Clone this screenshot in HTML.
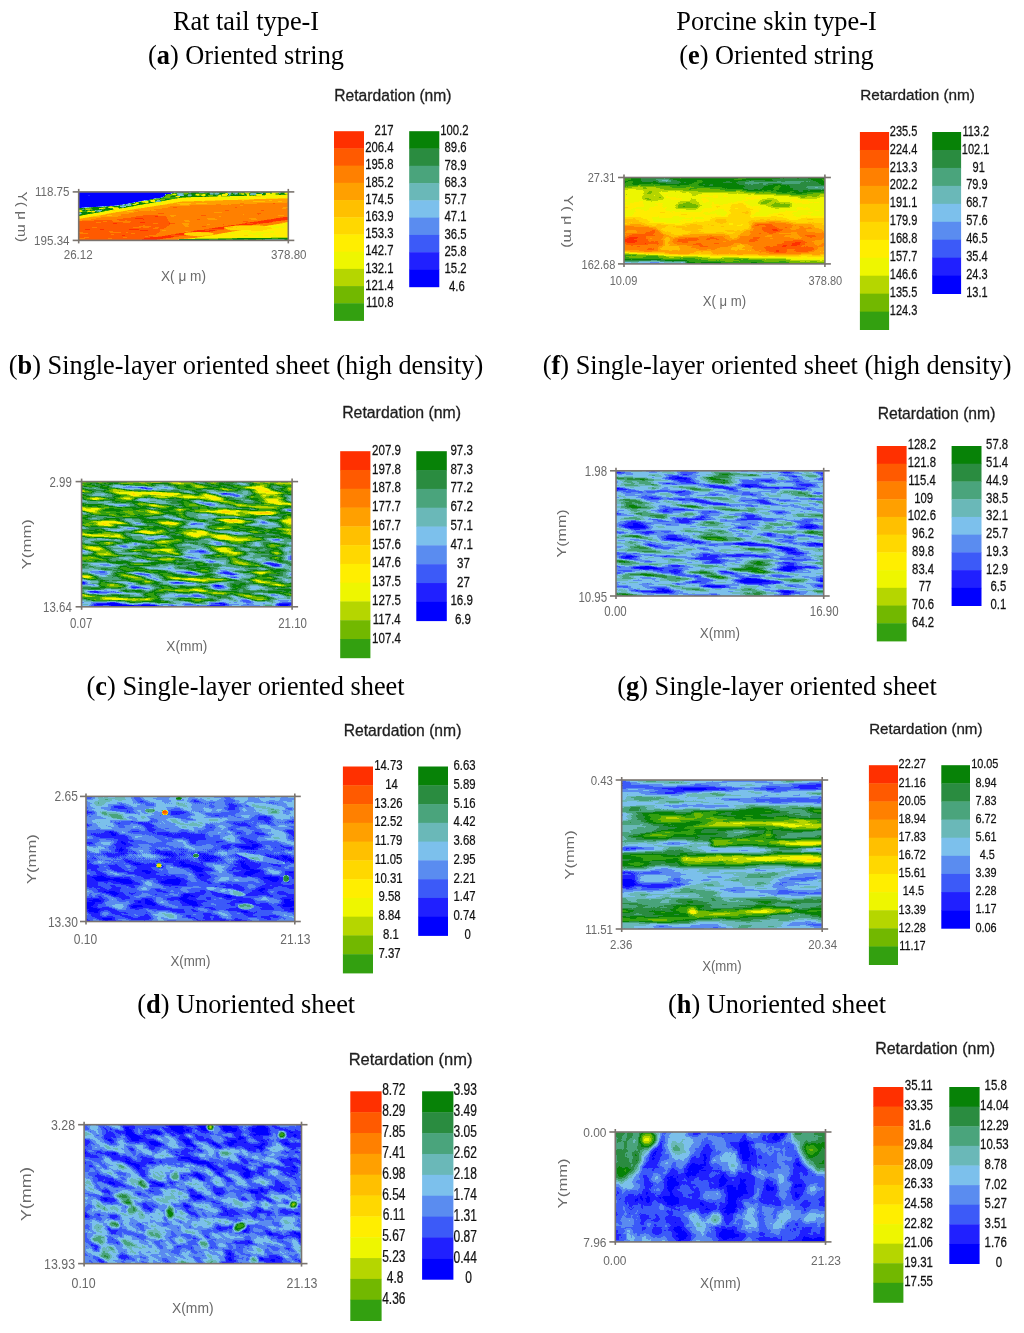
<!DOCTYPE html>
<html><head><meta charset="utf-8"><title>Retardation maps</title>
<style>html,body{margin:0;padding:0;background:#fff} svg{display:block}</style></head>
<body><svg width="1024" height="1333" viewBox="0 0 1024 1333">
<rect width="1024" height="1333" fill="#fff"/>
<svg x="78.7" y="191.9" width="209.60" height="48.50" viewBox="0 0 209.60 48.50" overflow="hidden">
<defs><filter id="bl1" x="-20%" y="-20%" width="140%" height="140%"><feGaussianBlur stdDeviation="0.5"/></filter><filter id="cm1" x="0" y="0" width="209.60" height="48.50" filterUnits="userSpaceOnUse" color-interpolation-filters="sRGB">
<feColorMatrix type="matrix" values="2 0 0 0 -0.5  2 0 0 0 -0.5  2 0 0 0 -0.5  0 0 0 0 1"/>
<feComponentTransfer><feFuncR type="discrete" tableValues="0.000 0.125 0.235 0.353 0.486 0.416 0.290 0.165 0.027 0.200 0.447 0.710 0.933 1.000 1.000 1.000 1.000 1.000 1.000 1.000"/><feFuncG type="discrete" tableValues="0.000 0.125 0.353 0.549 0.753 0.722 0.643 0.549 0.510 0.627 0.722 0.839 0.965 0.933 0.847 0.753 0.627 0.502 0.353 0.188"/><feFuncB type="discrete" tableValues="1.000 1.000 0.973 0.941 0.925 0.722 0.486 0.251 0.027 0.063 0.000 0.000 0.000 0.000 0.000 0.000 0.000 0.000 0.000 0.000"/></feComponentTransfer>
<feGaussianBlur stdDeviation="0.45"/>
</filter>
<filter id="nz1" x="0" y="0" width="1" height="1" color-interpolation-filters="sRGB">
<feTurbulence type="fractalNoise" baseFrequency="0.07 0.35" numOctaves="2" seed="3"/>
<feColorMatrix type="matrix" values="0.125 0 0 0 0.438  0.125 0 0 0 0.438  0.125 0 0 0 0.438  0 0 0 0 1"/>
</filter></defs>
<g filter="url(#cm1)"><g filter="url(#bl1)"><rect x="-10" y="-10" width="229.6" height="68.5" fill="#dfdfdf"/><polygon points="0,29.5 50,21 104,13.5 215,10.3 215,-5 -5,-5 -5,29.5" fill="#d2d2d2"/><polygon points="0,27 50,18 104,9.5 215,6 215,-5 -5,-5 -5,27" fill="#aaaaaa"/><polygon points="0,24 50,15 104,5.5 215,2.8 215,-5 -5,-5 -5,24" fill="#6e6e6e"/><polygon points="-5,-5 100,-5 97,0 82,6 39,13.5 0,16 -5,16" fill="#060606"/><polygon points="-5,29 0,29 39,27.5 67,23 87,24 92,32 75,44 62,55 -5,55" fill="#ececec"/><line x1="48" y1="51" x2="215" y2="25.3" stroke="#f9f9f9" stroke-width="3"/><polygon points="64,55 215,29.4 215,55" fill="#aaaaaa"/><ellipse cx="170" cy="36" rx="25" ry="2.5" fill="#bababa"/><ellipse cx="120" cy="42" rx="15" ry="2" fill="#bababa"/><polygon points="100,47 215,45.5 215,55 100,55" fill="#6e6e6e"/><ellipse cx="195" cy="48.8" rx="14" ry="1.2" fill="#262626"/><ellipse cx="134.0" cy="0.6" rx="2.1" ry="0.8" fill="#868686"/><ellipse cx="21.5" cy="18.5" rx="1.7" ry="1.0" fill="#464646"/><ellipse cx="6.2" cy="17.5" rx="3.0" ry="1.0" fill="#464646"/><ellipse cx="150.1" cy="2.8" rx="2.1" ry="1.1" fill="#464646"/><ellipse cx="169.7" cy="0.5" rx="1.9" ry="1.0" fill="#acacac"/><ellipse cx="58.2" cy="11.2" rx="2.3" ry="0.8" fill="#acacac"/><ellipse cx="20.3" cy="19.1" rx="2.2" ry="0.7" fill="#464646"/><ellipse cx="96.3" cy="1.5" rx="1.7" ry="0.9" fill="#464646"/><ellipse cx="131.8" cy="3.9" rx="2.9" ry="1.1" fill="#868686"/><ellipse cx="9.6" cy="17.2" rx="4.0" ry="1.2" fill="#868686"/><ellipse cx="181.6" cy="1.5" rx="3.1" ry="0.9" fill="#464646"/><ellipse cx="77.6" cy="7.8" rx="3.3" ry="1.1" fill="#868686"/><ellipse cx="15.0" cy="18.9" rx="3.3" ry="0.8" fill="#464646"/><ellipse cx="79.5" cy="9.3" rx="3.2" ry="0.8" fill="#393939"/><ellipse cx="68.0" cy="10.8" rx="2.1" ry="0.7" fill="#9f9f9f"/><ellipse cx="66.1" cy="9.9" rx="3.8" ry="1.0" fill="#9f9f9f"/><ellipse cx="150.5" cy="1.2" rx="2.5" ry="1.2" fill="#464646"/><ellipse cx="96.2" cy="2.3" rx="3.4" ry="1.0" fill="#9f9f9f"/><ellipse cx="156.6" cy="1.9" rx="2.5" ry="0.8" fill="#464646"/><ellipse cx="209.1" cy="1.4" rx="3.4" ry="1.2" fill="#9f9f9f"/><ellipse cx="32.0" cy="15.0" rx="2.6" ry="0.7" fill="#393939"/><ellipse cx="80.0" cy="9.2" rx="2.1" ry="1.0" fill="#464646"/><ellipse cx="197.5" cy="1.9" rx="3.2" ry="1.0" fill="#9f9f9f"/><ellipse cx="55.9" cy="12.6" rx="2.2" ry="0.8" fill="#9f9f9f"/><ellipse cx="0.7" cy="21.5" rx="2.2" ry="1.0" fill="#393939"/><ellipse cx="37.4" cy="16.5" rx="3.1" ry="1.2" fill="#acacac"/><ellipse cx="106.4" cy="1.4" rx="3.4" ry="1.0" fill="#868686"/><ellipse cx="163.2" cy="2.1" rx="3.0" ry="1.0" fill="#9f9f9f"/><ellipse cx="23.4" cy="16.6" rx="3.5" ry="0.8" fill="#acacac"/><ellipse cx="50.5" cy="13.4" rx="1.7" ry="1.0" fill="#9f9f9f"/><ellipse cx="14.5" cy="19.6" rx="1.8" ry="1.1" fill="#acacac"/><ellipse cx="198.5" cy="0.8" rx="3.7" ry="1.0" fill="#464646"/><ellipse cx="44.4" cy="14.4" rx="3.2" ry="1.1" fill="#393939"/><ellipse cx="83.6" cy="7.7" rx="2.6" ry="1.0" fill="#868686"/><ellipse cx="25.4" cy="15.8" rx="1.6" ry="1.0" fill="#868686"/><ellipse cx="123.3" cy="0.5" rx="3.1" ry="0.8" fill="#393939"/><ellipse cx="189.8" cy="2.5" rx="2.8" ry="0.9" fill="#9f9f9f"/><ellipse cx="101.7" cy="3.1" rx="3.8" ry="1.0" fill="#393939"/><ellipse cx="99.1" cy="4.7" rx="2.5" ry="0.8" fill="#acacac"/><ellipse cx="138.1" cy="1.8" rx="2.7" ry="1.1" fill="#464646"/><ellipse cx="141.1" cy="4.0" rx="1.7" ry="1.1" fill="#9f9f9f"/><ellipse cx="167.8" cy="0.8" rx="2.0" ry="1.0" fill="#9f9f9f"/><ellipse cx="88.4" cy="5.0" rx="3.7" ry="0.7" fill="#9f9f9f"/><ellipse cx="169.4" cy="2.9" rx="1.6" ry="1.3" fill="#9f9f9f"/><ellipse cx="175.2" cy="3.1" rx="3.6" ry="0.8" fill="#acacac"/><ellipse cx="101.8" cy="1.5" rx="3.8" ry="0.8" fill="#464646"/><ellipse cx="0.5" cy="19.2" rx="3.5" ry="0.9" fill="#acacac"/><ellipse cx="146.0" cy="3.0" rx="2.9" ry="1.1" fill="#acacac"/><ellipse cx="32.4" cy="15.4" rx="2.9" ry="1.0" fill="#9f9f9f"/><ellipse cx="156.8" cy="0.7" rx="2.7" ry="1.3" fill="#464646"/><ellipse cx="111.3" cy="0.7" rx="1.7" ry="0.8" fill="#464646"/><ellipse cx="124.7" cy="3.2" rx="2.5" ry="1.3" fill="#9f9f9f"/><ellipse cx="119.4" cy="2.9" rx="3.0" ry="1.0" fill="#9f9f9f"/><ellipse cx="122.3" cy="2.6" rx="2.0" ry="1.1" fill="#868686"/><ellipse cx="50.0" cy="13.0" rx="3.1" ry="1.0" fill="#393939"/><ellipse cx="194.7" cy="2.5" rx="2.6" ry="1.3" fill="#9f9f9f"/><ellipse cx="208.8" cy="0.6" rx="2.8" ry="0.8" fill="#9f9f9f"/><ellipse cx="73.2" cy="8.2" rx="2.4" ry="0.8" fill="#9f9f9f"/><ellipse cx="174.8" cy="2.4" rx="4.0" ry="1.2" fill="#464646"/><ellipse cx="110.9" cy="3.4" rx="2.2" ry="1.1" fill="#464646"/><ellipse cx="196.8" cy="0.8" rx="3.7" ry="1.1" fill="#9f9f9f"/><ellipse cx="32.6" cy="15.3" rx="3.3" ry="0.8" fill="#9f9f9f"/><ellipse cx="132.9" cy="1.5" rx="2.1" ry="1.2" fill="#464646"/><ellipse cx="10.6" cy="19.5" rx="2.2" ry="0.7" fill="#acacac"/><ellipse cx="161.6" cy="2.4" rx="1.9" ry="1.0" fill="#868686"/><ellipse cx="147.9" cy="2.4" rx="1.7" ry="1.2" fill="#9f9f9f"/><ellipse cx="189.5" cy="1.8" rx="2.4" ry="1.0" fill="#acacac"/><ellipse cx="90.1" cy="3.4" rx="3.7" ry="1.2" fill="#868686"/><ellipse cx="180.4" cy="2.8" rx="3.2" ry="1.1" fill="#9f9f9f"/><ellipse cx="74.1" cy="9.2" rx="2.5" ry="1.1" fill="#acacac"/></g>
<g opacity="0.5"><rect x="-210" y="-210" width="629" height="468" filter="url(#nz1)" transform="rotate(0 104.8 24.2)"/></g></g>
</svg>
<rect x="78.7" y="191.9" width="209.60" height="48.50" fill="none" stroke="#7a746f" stroke-width="1.6"/>
<line x1="72.70" y1="191.90" x2="78.70" y2="191.90" stroke="#7a746f" stroke-width="1.6"/>
<line x1="72.70" y1="240.40" x2="78.70" y2="240.40" stroke="#7a746f" stroke-width="1.6"/>
<line x1="288.30" y1="191.90" x2="294.30" y2="191.90" stroke="#7a746f" stroke-width="1.6"/>
<line x1="288.30" y1="240.40" x2="294.30" y2="240.40" stroke="#7a746f" stroke-width="1.6"/>
<line x1="78.70" y1="188.90" x2="78.70" y2="191.90" stroke="#7a746f" stroke-width="1.6"/>
<line x1="288.30" y1="188.90" x2="288.30" y2="191.90" stroke="#7a746f" stroke-width="1.6"/>
<line x1="78.70" y1="240.40" x2="78.70" y2="243.40" stroke="#7a746f" stroke-width="1.6"/>
<line x1="288.30" y1="240.40" x2="288.30" y2="243.40" stroke="#7a746f" stroke-width="1.6"/>
<text transform="translate(69.50,196.27) scale(0.95,1)" font-size="12.2" fill="#6a6a6a" text-anchor="end" font-family='"Liberation Sans", Arial, sans-serif'>118.75</text>
<text transform="translate(69.50,245.27) scale(0.95,1)" font-size="12.2" fill="#6a6a6a" text-anchor="end" font-family='"Liberation Sans", Arial, sans-serif'>195.34</text>
<text transform="translate(78.20,259.30) scale(0.95,1)" font-size="12.2" fill="#6a6a6a" text-anchor="middle" font-family='"Liberation Sans", Arial, sans-serif'>26.12</text>
<text transform="translate(288.80,259.30) scale(0.95,1)" font-size="12.2" fill="#6a6a6a" text-anchor="middle" font-family='"Liberation Sans", Arial, sans-serif'>378.80</text>
<text transform="translate(183.50,281.30) scale(0.961,1)" font-size="14.2" fill="#6a6a6a" text-anchor="middle" font-family='"Liberation Sans", Arial, sans-serif'>X( μ m)</text>
<text transform="translate(17.50,216.80) rotate(90) scale(1.134,1)" font-size="13.5" fill="#6a6a6a" text-anchor="middle" font-family='"Liberation Sans", Arial, sans-serif'>Y( μ m)</text>
<text x="334.30" y="101.10" font-size="15.638965517241378" fill="#1e1e1e" text-anchor="start" font-family='"Liberation Sans", Arial, sans-serif' stroke="#1e1e1e" stroke-width="0.3">Retardation (nm)</text>
<rect x="334" y="131.20" width="30.00" height="17.61" fill="#ff3000"/>
<rect x="334" y="148.41" width="30.00" height="17.61" fill="#ff5a00"/>
<rect x="334" y="165.62" width="30.00" height="17.61" fill="#ff8000"/>
<rect x="334" y="182.83" width="30.00" height="17.61" fill="#ffa000"/>
<rect x="334" y="200.04" width="30.00" height="17.61" fill="#ffc000"/>
<rect x="334" y="217.25" width="30.00" height="17.61" fill="#ffd800"/>
<rect x="334" y="234.45" width="30.00" height="17.61" fill="#ffee00"/>
<rect x="334" y="251.66" width="30.00" height="17.61" fill="#eef600"/>
<rect x="334" y="268.87" width="30.00" height="17.61" fill="#b5d600"/>
<rect x="334" y="286.08" width="30.00" height="17.61" fill="#72b800"/>
<rect x="334" y="303.29" width="30.00" height="17.61" fill="#33a010"/>
<text transform="translate(393.50,134.94) scale(0.76,1)" font-size="14.91" fill="#111" text-anchor="end" font-family='"Liberation Sans", Arial, sans-serif' stroke="#111" stroke-width="0.25">217</text>
<text transform="translate(393.50,152.15) scale(0.76,1)" font-size="14.91" fill="#111" text-anchor="end" font-family='"Liberation Sans", Arial, sans-serif' stroke="#111" stroke-width="0.25">206.4</text>
<text transform="translate(393.50,169.36) scale(0.76,1)" font-size="14.91" fill="#111" text-anchor="end" font-family='"Liberation Sans", Arial, sans-serif' stroke="#111" stroke-width="0.25">195.8</text>
<text transform="translate(393.50,186.57) scale(0.76,1)" font-size="14.91" fill="#111" text-anchor="end" font-family='"Liberation Sans", Arial, sans-serif' stroke="#111" stroke-width="0.25">185.2</text>
<text transform="translate(393.50,203.77) scale(0.76,1)" font-size="14.91" fill="#111" text-anchor="end" font-family='"Liberation Sans", Arial, sans-serif' stroke="#111" stroke-width="0.25">174.5</text>
<text transform="translate(393.50,220.98) scale(0.76,1)" font-size="14.91" fill="#111" text-anchor="end" font-family='"Liberation Sans", Arial, sans-serif' stroke="#111" stroke-width="0.25">163.9</text>
<text transform="translate(393.50,238.19) scale(0.76,1)" font-size="14.91" fill="#111" text-anchor="end" font-family='"Liberation Sans", Arial, sans-serif' stroke="#111" stroke-width="0.25">153.3</text>
<text transform="translate(393.50,255.40) scale(0.76,1)" font-size="14.91" fill="#111" text-anchor="end" font-family='"Liberation Sans", Arial, sans-serif' stroke="#111" stroke-width="0.25">142.7</text>
<text transform="translate(393.50,272.61) scale(0.76,1)" font-size="14.91" fill="#111" text-anchor="end" font-family='"Liberation Sans", Arial, sans-serif' stroke="#111" stroke-width="0.25">132.1</text>
<text transform="translate(393.50,289.82) scale(0.76,1)" font-size="14.91" fill="#111" text-anchor="end" font-family='"Liberation Sans", Arial, sans-serif' stroke="#111" stroke-width="0.25">121.4</text>
<text transform="translate(393.50,307.03) scale(0.76,1)" font-size="14.91" fill="#111" text-anchor="end" font-family='"Liberation Sans", Arial, sans-serif' stroke="#111" stroke-width="0.25">110.8</text>
<rect x="409.2" y="131.20" width="30.10" height="17.69" fill="#078207"/>
<rect x="409.2" y="148.49" width="30.10" height="17.69" fill="#2a8c40"/>
<rect x="409.2" y="165.78" width="30.10" height="17.69" fill="#4aa47c"/>
<rect x="409.2" y="183.07" width="30.10" height="17.69" fill="#6ab8b8"/>
<rect x="409.2" y="200.36" width="30.10" height="17.69" fill="#7cc0ec"/>
<rect x="409.2" y="217.64" width="30.10" height="17.69" fill="#5a8cf0"/>
<rect x="409.2" y="234.93" width="30.10" height="17.69" fill="#3c5af8"/>
<rect x="409.2" y="252.22" width="30.10" height="17.69" fill="#2020ff"/>
<rect x="409.2" y="269.51" width="30.10" height="17.69" fill="#0000ff"/>
<text transform="translate(468.50,134.94) scale(0.76,1)" font-size="14.91" fill="#111" text-anchor="end" font-family='"Liberation Sans", Arial, sans-serif' stroke="#111" stroke-width="0.25">100.2</text>
<text transform="translate(466.61,152.23) scale(0.76,1)" font-size="14.91" fill="#111" text-anchor="end" font-family='"Liberation Sans", Arial, sans-serif' stroke="#111" stroke-width="0.25">89.6</text>
<text transform="translate(466.61,169.52) scale(0.76,1)" font-size="14.91" fill="#111" text-anchor="end" font-family='"Liberation Sans", Arial, sans-serif' stroke="#111" stroke-width="0.25">78.9</text>
<text transform="translate(466.61,186.80) scale(0.76,1)" font-size="14.91" fill="#111" text-anchor="end" font-family='"Liberation Sans", Arial, sans-serif' stroke="#111" stroke-width="0.25">68.3</text>
<text transform="translate(466.61,204.09) scale(0.76,1)" font-size="14.91" fill="#111" text-anchor="end" font-family='"Liberation Sans", Arial, sans-serif' stroke="#111" stroke-width="0.25">57.7</text>
<text transform="translate(466.61,221.38) scale(0.76,1)" font-size="14.91" fill="#111" text-anchor="end" font-family='"Liberation Sans", Arial, sans-serif' stroke="#111" stroke-width="0.25">47.1</text>
<text transform="translate(466.61,238.67) scale(0.76,1)" font-size="14.91" fill="#111" text-anchor="end" font-family='"Liberation Sans", Arial, sans-serif' stroke="#111" stroke-width="0.25">36.5</text>
<text transform="translate(466.61,255.96) scale(0.76,1)" font-size="14.91" fill="#111" text-anchor="end" font-family='"Liberation Sans", Arial, sans-serif' stroke="#111" stroke-width="0.25">25.8</text>
<text transform="translate(466.61,273.25) scale(0.76,1)" font-size="14.91" fill="#111" text-anchor="end" font-family='"Liberation Sans", Arial, sans-serif' stroke="#111" stroke-width="0.25">15.2</text>
<text transform="translate(464.72,290.54) scale(0.76,1)" font-size="14.91" fill="#111" text-anchor="end" font-family='"Liberation Sans", Arial, sans-serif' stroke="#111" stroke-width="0.25">4.6</text>
<svg x="81.6" y="481.6" width="210.50" height="125.20" viewBox="0 0 210.50 125.20" overflow="hidden">
<defs><filter id="bl2" x="-20%" y="-20%" width="140%" height="140%"><feGaussianBlur stdDeviation="1"/></filter><filter id="cm2" x="0" y="0" width="210.50" height="125.20" filterUnits="userSpaceOnUse" color-interpolation-filters="sRGB">
<feColorMatrix type="matrix" values="2 0 0 0 -0.5  2 0 0 0 -0.5  2 0 0 0 -0.5  0 0 0 0 1"/>
<feComponentTransfer><feFuncR type="discrete" tableValues="0.000 0.125 0.235 0.353 0.486 0.416 0.290 0.165 0.027 0.200 0.447 0.710 0.933 1.000 1.000 1.000 1.000 1.000 1.000 1.000"/><feFuncG type="discrete" tableValues="0.000 0.125 0.353 0.549 0.753 0.722 0.643 0.549 0.510 0.627 0.722 0.839 0.965 0.933 0.847 0.753 0.627 0.502 0.353 0.188"/><feFuncB type="discrete" tableValues="1.000 1.000 0.973 0.941 0.925 0.722 0.486 0.251 0.027 0.063 0.000 0.000 0.000 0.000 0.000 0.000 0.000 0.000 0.000 0.000"/></feComponentTransfer>
<feGaussianBlur stdDeviation="0.45"/>
</filter>
<filter id="nz2" x="0" y="0" width="1" height="1" color-interpolation-filters="sRGB">
<feTurbulence type="fractalNoise" baseFrequency="0.03 0.16" numOctaves="3" seed="5"/>
<feColorMatrix type="matrix" values="0.958 0 0 0 0.021  0.958 0 0 0 0.021  0.958 0 0 0 0.021  0 0 0 0 1"/>
</filter></defs>
<g filter="url(#cm2)"><g filter="url(#bl2)"><rect x="-10" y="-10" width="230.5" height="145.2" fill="#666666"/><rect x="-5" y="-5" width="220" height="60" fill="#6f6f6f"/><rect x="-5" y="62" width="220" height="70" fill="#5d5d5d"/><polygon points="-5,130 -5,121 140,120 215,116 215,130" fill="#333333"/><rect x="-5" y="97" width="23" height="9" fill="#2b2b2b"/></g>
<g opacity="0.5"><rect x="-211" y="-211" width="632" height="546" filter="url(#nz2)" transform="rotate(4 105.3 62.6)"/></g></g>
</svg>
<rect x="81.6" y="481.6" width="210.50" height="125.20" fill="none" stroke="#7a746f" stroke-width="1.6"/>
<line x1="75.60" y1="481.60" x2="81.60" y2="481.60" stroke="#7a746f" stroke-width="1.6"/>
<line x1="75.60" y1="606.80" x2="81.60" y2="606.80" stroke="#7a746f" stroke-width="1.6"/>
<line x1="292.10" y1="481.60" x2="298.10" y2="481.60" stroke="#7a746f" stroke-width="1.6"/>
<line x1="292.10" y1="606.80" x2="298.10" y2="606.80" stroke="#7a746f" stroke-width="1.6"/>
<line x1="81.60" y1="478.60" x2="81.60" y2="481.60" stroke="#7a746f" stroke-width="1.6"/>
<line x1="292.10" y1="478.60" x2="292.10" y2="481.60" stroke="#7a746f" stroke-width="1.6"/>
<line x1="81.60" y1="606.80" x2="81.60" y2="609.80" stroke="#7a746f" stroke-width="1.6"/>
<line x1="292.10" y1="606.80" x2="292.10" y2="609.80" stroke="#7a746f" stroke-width="1.6"/>
<text transform="translate(71.80,486.61) scale(0.82,1)" font-size="14" fill="#6a6a6a" text-anchor="end" font-family='"Liberation Sans", Arial, sans-serif'>2.99</text>
<text transform="translate(71.80,612.31) scale(0.82,1)" font-size="14" fill="#6a6a6a" text-anchor="end" font-family='"Liberation Sans", Arial, sans-serif'>13.64</text>
<text transform="translate(81.10,627.80) scale(0.82,1)" font-size="14" fill="#6a6a6a" text-anchor="middle" font-family='"Liberation Sans", Arial, sans-serif'>0.07</text>
<text transform="translate(292.60,627.80) scale(0.82,1)" font-size="14" fill="#6a6a6a" text-anchor="middle" font-family='"Liberation Sans", Arial, sans-serif'>21.10</text>
<text transform="translate(186.85,651.00) scale(0.963,1)" font-size="14.2" fill="#6a6a6a" text-anchor="middle" font-family='"Liberation Sans", Arial, sans-serif'>X(mm)</text>
<text transform="translate(30.90,544.20) rotate(-90) scale(1.242,1)" font-size="13.5" fill="#6a6a6a" text-anchor="middle" font-family='"Liberation Sans", Arial, sans-serif'>Y(mm)</text>
<text x="342.20" y="417.50" font-size="15.838103448275863" fill="#1e1e1e" text-anchor="start" font-family='"Liberation Sans", Arial, sans-serif' stroke="#1e1e1e" stroke-width="0.3">Retardation (nm)</text>
<rect x="340.2" y="451.20" width="30.20" height="19.18" fill="#ff3000"/>
<rect x="340.2" y="469.98" width="30.20" height="19.18" fill="#ff5a00"/>
<rect x="340.2" y="488.76" width="30.20" height="19.18" fill="#ff8000"/>
<rect x="340.2" y="507.55" width="30.20" height="19.18" fill="#ffa000"/>
<rect x="340.2" y="526.33" width="30.20" height="19.18" fill="#ffc000"/>
<rect x="340.2" y="545.11" width="30.20" height="19.18" fill="#ffd800"/>
<rect x="340.2" y="563.89" width="30.20" height="19.18" fill="#ffee00"/>
<rect x="340.2" y="582.67" width="30.20" height="19.18" fill="#eef600"/>
<rect x="340.2" y="601.45" width="30.20" height="19.18" fill="#b5d600"/>
<rect x="340.2" y="620.24" width="30.20" height="19.18" fill="#72b800"/>
<rect x="340.2" y="639.02" width="30.20" height="19.18" fill="#33a010"/>
<text transform="translate(401.00,454.79) scale(0.7979999999999999,1)" font-size="14.490000000000002" fill="#111" text-anchor="end" font-family='"Liberation Sans", Arial, sans-serif' stroke="#111" stroke-width="0.25">207.9</text>
<text transform="translate(401.00,473.57) scale(0.7979999999999999,1)" font-size="14.490000000000002" fill="#111" text-anchor="end" font-family='"Liberation Sans", Arial, sans-serif' stroke="#111" stroke-width="0.25">197.8</text>
<text transform="translate(401.00,492.35) scale(0.7979999999999999,1)" font-size="14.490000000000002" fill="#111" text-anchor="end" font-family='"Liberation Sans", Arial, sans-serif' stroke="#111" stroke-width="0.25">187.8</text>
<text transform="translate(401.00,511.13) scale(0.7979999999999999,1)" font-size="14.490000000000002" fill="#111" text-anchor="end" font-family='"Liberation Sans", Arial, sans-serif' stroke="#111" stroke-width="0.25">177.7</text>
<text transform="translate(401.00,529.91) scale(0.7979999999999999,1)" font-size="14.490000000000002" fill="#111" text-anchor="end" font-family='"Liberation Sans", Arial, sans-serif' stroke="#111" stroke-width="0.25">167.7</text>
<text transform="translate(401.00,548.70) scale(0.7979999999999999,1)" font-size="14.490000000000002" fill="#111" text-anchor="end" font-family='"Liberation Sans", Arial, sans-serif' stroke="#111" stroke-width="0.25">157.6</text>
<text transform="translate(401.00,567.48) scale(0.7979999999999999,1)" font-size="14.490000000000002" fill="#111" text-anchor="end" font-family='"Liberation Sans", Arial, sans-serif' stroke="#111" stroke-width="0.25">147.6</text>
<text transform="translate(401.00,586.26) scale(0.7979999999999999,1)" font-size="14.490000000000002" fill="#111" text-anchor="end" font-family='"Liberation Sans", Arial, sans-serif' stroke="#111" stroke-width="0.25">137.5</text>
<text transform="translate(401.00,605.04) scale(0.7979999999999999,1)" font-size="14.490000000000002" fill="#111" text-anchor="end" font-family='"Liberation Sans", Arial, sans-serif' stroke="#111" stroke-width="0.25">127.5</text>
<text transform="translate(400.74,623.82) scale(0.7979999999999999,1)" font-size="14.490000000000002" fill="#111" text-anchor="end" font-family='"Liberation Sans", Arial, sans-serif' stroke="#111" stroke-width="0.25">117.4</text>
<text transform="translate(401.00,642.61) scale(0.7979999999999999,1)" font-size="14.490000000000002" fill="#111" text-anchor="end" font-family='"Liberation Sans", Arial, sans-serif' stroke="#111" stroke-width="0.25">107.4</text>
<rect x="416.3" y="451.20" width="30.50" height="19.23" fill="#078207"/>
<rect x="416.3" y="470.03" width="30.50" height="19.23" fill="#2a8c40"/>
<rect x="416.3" y="488.87" width="30.50" height="19.23" fill="#4aa47c"/>
<rect x="416.3" y="507.70" width="30.50" height="19.23" fill="#6ab8b8"/>
<rect x="416.3" y="526.53" width="30.50" height="19.23" fill="#7cc0ec"/>
<rect x="416.3" y="545.37" width="30.50" height="19.23" fill="#5a8cf0"/>
<rect x="416.3" y="564.20" width="30.50" height="19.23" fill="#3c5af8"/>
<rect x="416.3" y="583.03" width="30.50" height="19.23" fill="#2020ff"/>
<rect x="416.3" y="601.87" width="30.50" height="19.23" fill="#0000ff"/>
<text transform="translate(472.87,454.79) scale(0.7979999999999999,1)" font-size="14.490000000000002" fill="#111" text-anchor="end" font-family='"Liberation Sans", Arial, sans-serif' stroke="#111" stroke-width="0.25">97.3</text>
<text transform="translate(472.87,473.62) scale(0.7979999999999999,1)" font-size="14.490000000000002" fill="#111" text-anchor="end" font-family='"Liberation Sans", Arial, sans-serif' stroke="#111" stroke-width="0.25">87.3</text>
<text transform="translate(472.87,492.45) scale(0.7979999999999999,1)" font-size="14.490000000000002" fill="#111" text-anchor="end" font-family='"Liberation Sans", Arial, sans-serif' stroke="#111" stroke-width="0.25">77.2</text>
<text transform="translate(472.87,511.29) scale(0.7979999999999999,1)" font-size="14.490000000000002" fill="#111" text-anchor="end" font-family='"Liberation Sans", Arial, sans-serif' stroke="#111" stroke-width="0.25">67.2</text>
<text transform="translate(472.87,530.12) scale(0.7979999999999999,1)" font-size="14.490000000000002" fill="#111" text-anchor="end" font-family='"Liberation Sans", Arial, sans-serif' stroke="#111" stroke-width="0.25">57.1</text>
<text transform="translate(472.87,548.95) scale(0.7979999999999999,1)" font-size="14.490000000000002" fill="#111" text-anchor="end" font-family='"Liberation Sans", Arial, sans-serif' stroke="#111" stroke-width="0.25">47.1</text>
<text transform="translate(469.98,567.79) scale(0.7979999999999999,1)" font-size="14.490000000000002" fill="#111" text-anchor="end" font-family='"Liberation Sans", Arial, sans-serif' stroke="#111" stroke-width="0.25">37</text>
<text transform="translate(469.98,586.62) scale(0.7979999999999999,1)" font-size="14.490000000000002" fill="#111" text-anchor="end" font-family='"Liberation Sans", Arial, sans-serif' stroke="#111" stroke-width="0.25">27</text>
<text transform="translate(472.87,605.45) scale(0.7979999999999999,1)" font-size="14.490000000000002" fill="#111" text-anchor="end" font-family='"Liberation Sans", Arial, sans-serif' stroke="#111" stroke-width="0.25">16.9</text>
<text transform="translate(470.94,624.29) scale(0.7979999999999999,1)" font-size="14.490000000000002" fill="#111" text-anchor="end" font-family='"Liberation Sans", Arial, sans-serif' stroke="#111" stroke-width="0.25">6.9</text>
<svg x="86" y="796.4" width="208.80" height="125.10" viewBox="0 0 208.80 125.10" overflow="hidden">
<defs><filter id="bl3" x="-20%" y="-20%" width="140%" height="140%"><feGaussianBlur stdDeviation="0.6"/></filter><filter id="cm3" x="0" y="0" width="208.80" height="125.10" filterUnits="userSpaceOnUse" color-interpolation-filters="sRGB">
<feColorMatrix type="matrix" values="2 0 0 0 -0.5  2 0 0 0 -0.5  2 0 0 0 -0.5  0 0 0 0 1"/>
<feComponentTransfer><feFuncR type="discrete" tableValues="0.000 0.125 0.235 0.353 0.486 0.416 0.290 0.165 0.027 0.200 0.447 0.710 0.933 1.000 1.000 1.000 1.000 1.000 1.000 1.000"/><feFuncG type="discrete" tableValues="0.000 0.125 0.353 0.549 0.753 0.722 0.643 0.549 0.510 0.627 0.722 0.839 0.965 0.933 0.847 0.753 0.627 0.502 0.353 0.188"/><feFuncB type="discrete" tableValues="1.000 1.000 0.973 0.941 0.925 0.722 0.486 0.251 0.027 0.063 0.000 0.000 0.000 0.000 0.000 0.000 0.000 0.000 0.000 0.000"/></feComponentTransfer>
<feGaussianBlur stdDeviation="0.45"/>
</filter>
<filter id="nz3" x="0" y="0" width="1" height="1" color-interpolation-filters="sRGB">
<feTurbulence type="fractalNoise" baseFrequency="0.04 0.11" numOctaves="3" seed="7"/>
<feColorMatrix type="matrix" values="0.417 0 0 0 0.292  0.417 0 0 0 0.292  0.417 0 0 0 0.292  0 0 0 0 1"/>
</filter></defs>
<g filter="url(#cm3)"><g filter="url(#bl3)"><rect x="-10" y="-10" width="228.8" height="145.1" fill="#1c1c1c"/><defs><linearGradient id="gc" x1="0" y1="0" x2="0" y2="1"><stop offset="0" stop-color="#343434"/><stop offset="0.4" stop-color="#202020"/><stop offset="1" stop-color="#1c1c1c"/></linearGradient></defs><rect x="-5" y="-5" width="220" height="135" fill="url(#gc)"/><ellipse cx="79" cy="16" rx="3" ry="2.5" fill="#e6e6e6"/><ellipse cx="73" cy="69" rx="2.6" ry="2.2" fill="#bfbfbf"/><ellipse cx="110" cy="59" rx="3" ry="2" fill="#6c6c6c"/><ellipse cx="92.8" cy="2" rx="3" ry="1.5" fill="#666666"/><ellipse cx="200" cy="82" rx="3" ry="3.5" fill="#606060"/><ellipse cx="64" cy="14" rx="5" ry="2" fill="#535353"/><ellipse cx="160" cy="110" rx="8" ry="3" fill="#404040"/><ellipse cx="40" cy="20" rx="25" ry="4" fill="#404040" transform="rotate(8 40 20)"/><ellipse cx="100" cy="26" rx="20" ry="3" fill="#3d3d3d" transform="rotate(8 100 26)"/><ellipse cx="180" cy="10" rx="20" ry="3" fill="#3d3d3d" transform="rotate(8 180 10)"/><ellipse cx="175" cy="62" rx="25" ry="3" fill="#3b3b3b" transform="rotate(12 175 62)"/><ellipse cx="140" cy="95" rx="20" ry="3" fill="#393939" transform="rotate(10 140 95)"/></g>
<g opacity="0.5"><rect x="-209" y="-209" width="626" height="543" filter="url(#nz3)" transform="rotate(8 104.4 62.6)"/></g></g>
</svg>
<rect x="86" y="796.4" width="208.80" height="125.10" fill="none" stroke="#7a746f" stroke-width="1.6"/>
<line x1="80.00" y1="796.40" x2="86.00" y2="796.40" stroke="#7a746f" stroke-width="1.6"/>
<line x1="80.00" y1="921.50" x2="86.00" y2="921.50" stroke="#7a746f" stroke-width="1.6"/>
<line x1="294.80" y1="796.40" x2="300.80" y2="796.40" stroke="#7a746f" stroke-width="1.6"/>
<line x1="294.80" y1="921.50" x2="300.80" y2="921.50" stroke="#7a746f" stroke-width="1.6"/>
<line x1="86.00" y1="793.40" x2="86.00" y2="796.40" stroke="#7a746f" stroke-width="1.6"/>
<line x1="294.80" y1="793.40" x2="294.80" y2="796.40" stroke="#7a746f" stroke-width="1.6"/>
<line x1="86.00" y1="921.50" x2="86.00" y2="924.50" stroke="#7a746f" stroke-width="1.6"/>
<line x1="294.80" y1="921.50" x2="294.80" y2="924.50" stroke="#7a746f" stroke-width="1.6"/>
<text transform="translate(78.00,801.41) scale(0.86,1)" font-size="14" fill="#6a6a6a" text-anchor="end" font-family='"Liberation Sans", Arial, sans-serif'>2.65</text>
<text transform="translate(78.00,927.01) scale(0.86,1)" font-size="14" fill="#6a6a6a" text-anchor="end" font-family='"Liberation Sans", Arial, sans-serif'>13.30</text>
<text transform="translate(85.50,944.10) scale(0.86,1)" font-size="14" fill="#6a6a6a" text-anchor="middle" font-family='"Liberation Sans", Arial, sans-serif'>0.10</text>
<text transform="translate(295.30,944.10) scale(0.86,1)" font-size="14" fill="#6a6a6a" text-anchor="middle" font-family='"Liberation Sans", Arial, sans-serif'>21.13</text>
<text transform="translate(190.40,966.30) scale(0.939,1)" font-size="14.2" fill="#6a6a6a" text-anchor="middle" font-family='"Liberation Sans", Arial, sans-serif'>X(mm)</text>
<text transform="translate(36.20,859.10) rotate(-90) scale(1.230,1)" font-size="13.5" fill="#6a6a6a" text-anchor="middle" font-family='"Liberation Sans", Arial, sans-serif'>Y(mm)</text>
<text x="343.70" y="736.30" font-size="15.705344827586206" fill="#1e1e1e" text-anchor="start" font-family='"Liberation Sans", Arial, sans-serif' stroke="#1e1e1e" stroke-width="0.3">Retardation (nm)</text>
<rect x="342.9" y="766.50" width="30.10" height="19.17" fill="#ff3000"/>
<rect x="342.9" y="785.27" width="30.10" height="19.17" fill="#ff5a00"/>
<rect x="342.9" y="804.05" width="30.10" height="19.17" fill="#ff8000"/>
<rect x="342.9" y="822.82" width="30.10" height="19.17" fill="#ffa000"/>
<rect x="342.9" y="841.59" width="30.10" height="19.17" fill="#ffc000"/>
<rect x="342.9" y="860.36" width="30.10" height="19.17" fill="#ffd800"/>
<rect x="342.9" y="879.14" width="30.10" height="19.17" fill="#ffee00"/>
<rect x="342.9" y="897.91" width="30.10" height="19.17" fill="#eef600"/>
<rect x="342.9" y="916.68" width="30.10" height="19.17" fill="#b5d600"/>
<rect x="342.9" y="935.45" width="30.10" height="19.17" fill="#72b800"/>
<rect x="342.9" y="954.23" width="30.10" height="19.17" fill="#33a010"/>
<text transform="translate(402.50,770.05) scale(0.7885,1)" font-size="14.385" fill="#111" text-anchor="end" font-family='"Liberation Sans", Arial, sans-serif' stroke="#111" stroke-width="0.25">14.73</text>
<text transform="translate(397.77,788.82) scale(0.7885,1)" font-size="14.385" fill="#111" text-anchor="end" font-family='"Liberation Sans", Arial, sans-serif' stroke="#111" stroke-width="0.25">14</text>
<text transform="translate(402.50,807.60) scale(0.7885,1)" font-size="14.385" fill="#111" text-anchor="end" font-family='"Liberation Sans", Arial, sans-serif' stroke="#111" stroke-width="0.25">13.26</text>
<text transform="translate(402.50,826.37) scale(0.7885,1)" font-size="14.385" fill="#111" text-anchor="end" font-family='"Liberation Sans", Arial, sans-serif' stroke="#111" stroke-width="0.25">12.52</text>
<text transform="translate(402.25,845.14) scale(0.7885,1)" font-size="14.385" fill="#111" text-anchor="end" font-family='"Liberation Sans", Arial, sans-serif' stroke="#111" stroke-width="0.25">11.79</text>
<text transform="translate(402.25,863.91) scale(0.7885,1)" font-size="14.385" fill="#111" text-anchor="end" font-family='"Liberation Sans", Arial, sans-serif' stroke="#111" stroke-width="0.25">11.05</text>
<text transform="translate(402.50,882.69) scale(0.7885,1)" font-size="14.385" fill="#111" text-anchor="end" font-family='"Liberation Sans", Arial, sans-serif' stroke="#111" stroke-width="0.25">10.31</text>
<text transform="translate(400.61,901.46) scale(0.7885,1)" font-size="14.385" fill="#111" text-anchor="end" font-family='"Liberation Sans", Arial, sans-serif' stroke="#111" stroke-width="0.25">9.58</text>
<text transform="translate(400.61,920.23) scale(0.7885,1)" font-size="14.385" fill="#111" text-anchor="end" font-family='"Liberation Sans", Arial, sans-serif' stroke="#111" stroke-width="0.25">8.84</text>
<text transform="translate(398.72,939.00) scale(0.7885,1)" font-size="14.385" fill="#111" text-anchor="end" font-family='"Liberation Sans", Arial, sans-serif' stroke="#111" stroke-width="0.25">8.1</text>
<text transform="translate(400.61,957.78) scale(0.7885,1)" font-size="14.385" fill="#111" text-anchor="end" font-family='"Liberation Sans", Arial, sans-serif' stroke="#111" stroke-width="0.25">7.37</text>
<rect x="418.2" y="766.50" width="29.80" height="19.18" fill="#078207"/>
<rect x="418.2" y="785.28" width="29.80" height="19.18" fill="#2a8c40"/>
<rect x="418.2" y="804.06" width="29.80" height="19.18" fill="#4aa47c"/>
<rect x="418.2" y="822.83" width="29.80" height="19.18" fill="#6ab8b8"/>
<rect x="418.2" y="841.61" width="29.80" height="19.18" fill="#7cc0ec"/>
<rect x="418.2" y="860.39" width="29.80" height="19.18" fill="#5a8cf0"/>
<rect x="418.2" y="879.17" width="29.80" height="19.18" fill="#3c5af8"/>
<rect x="418.2" y="897.94" width="29.80" height="19.18" fill="#2020ff"/>
<rect x="418.2" y="916.72" width="29.80" height="19.18" fill="#0000ff"/>
<text transform="translate(475.51,770.05) scale(0.7885,1)" font-size="14.385" fill="#111" text-anchor="end" font-family='"Liberation Sans", Arial, sans-serif' stroke="#111" stroke-width="0.25">6.63</text>
<text transform="translate(475.51,788.83) scale(0.7885,1)" font-size="14.385" fill="#111" text-anchor="end" font-family='"Liberation Sans", Arial, sans-serif' stroke="#111" stroke-width="0.25">5.89</text>
<text transform="translate(475.51,807.61) scale(0.7885,1)" font-size="14.385" fill="#111" text-anchor="end" font-family='"Liberation Sans", Arial, sans-serif' stroke="#111" stroke-width="0.25">5.16</text>
<text transform="translate(475.51,826.38) scale(0.7885,1)" font-size="14.385" fill="#111" text-anchor="end" font-family='"Liberation Sans", Arial, sans-serif' stroke="#111" stroke-width="0.25">4.42</text>
<text transform="translate(475.51,845.16) scale(0.7885,1)" font-size="14.385" fill="#111" text-anchor="end" font-family='"Liberation Sans", Arial, sans-serif' stroke="#111" stroke-width="0.25">3.68</text>
<text transform="translate(475.51,863.94) scale(0.7885,1)" font-size="14.385" fill="#111" text-anchor="end" font-family='"Liberation Sans", Arial, sans-serif' stroke="#111" stroke-width="0.25">2.95</text>
<text transform="translate(475.51,882.72) scale(0.7885,1)" font-size="14.385" fill="#111" text-anchor="end" font-family='"Liberation Sans", Arial, sans-serif' stroke="#111" stroke-width="0.25">2.21</text>
<text transform="translate(475.51,901.49) scale(0.7885,1)" font-size="14.385" fill="#111" text-anchor="end" font-family='"Liberation Sans", Arial, sans-serif' stroke="#111" stroke-width="0.25">1.47</text>
<text transform="translate(475.51,920.27) scale(0.7885,1)" font-size="14.385" fill="#111" text-anchor="end" font-family='"Liberation Sans", Arial, sans-serif' stroke="#111" stroke-width="0.25">0.74</text>
<text transform="translate(470.78,939.05) scale(0.7885,1)" font-size="14.385" fill="#111" text-anchor="end" font-family='"Liberation Sans", Arial, sans-serif' stroke="#111" stroke-width="0.25">0</text>
<svg x="84.1" y="1124.7" width="217.40" height="138.90" viewBox="0 0 217.40 138.90" overflow="hidden">
<defs><filter id="bl4" x="-20%" y="-20%" width="140%" height="140%"><feGaussianBlur stdDeviation="1"/></filter><filter id="cm4" x="0" y="0" width="217.40" height="138.90" filterUnits="userSpaceOnUse" color-interpolation-filters="sRGB">
<feColorMatrix type="matrix" values="2 0 0 0 -0.5  2 0 0 0 -0.5  2 0 0 0 -0.5  0 0 0 0 1"/>
<feComponentTransfer><feFuncR type="discrete" tableValues="0.000 0.125 0.235 0.353 0.486 0.416 0.290 0.165 0.027 0.200 0.447 0.710 0.933 1.000 1.000 1.000 1.000 1.000 1.000 1.000"/><feFuncG type="discrete" tableValues="0.000 0.125 0.353 0.549 0.753 0.722 0.643 0.549 0.510 0.627 0.722 0.839 0.965 0.933 0.847 0.753 0.627 0.502 0.353 0.188"/><feFuncB type="discrete" tableValues="1.000 1.000 0.973 0.941 0.925 0.722 0.486 0.251 0.027 0.063 0.000 0.000 0.000 0.000 0.000 0.000 0.000 0.000 0.000 0.000"/></feComponentTransfer>
<feGaussianBlur stdDeviation="0.45"/>
</filter>
<filter id="nz4" x="0" y="0" width="1" height="1" color-interpolation-filters="sRGB">
<feTurbulence type="fractalNoise" baseFrequency="0.05 0.12" numOctaves="4" seed="9"/>
<feColorMatrix type="matrix" values="0.438 0 0 0 0.281  0.438 0 0 0 0.281  0.438 0 0 0 0.281  0 0 0 0 1"/>
</filter></defs>
<g filter="url(#cm4)"><g filter="url(#bl4)"><rect x="-10" y="-10" width="237.4" height="158.9" fill="#262626"/><defs><radialGradient id="rd1" cx="60" cy="110" r="110" gradientUnits="userSpaceOnUse"><stop offset="0" stop-color="#323232" stop-opacity="1"/><stop offset="1" stop-color="#323232" stop-opacity="0"/></radialGradient><linearGradient id="ld1" x1="0" y1="0" x2="0" y2="1"><stop offset="0" stop-color="#1b1b1b" stop-opacity="1"/><stop offset="1" stop-color="#1b1b1b" stop-opacity="0"/></linearGradient></defs><rect x="-5" y="-5" width="230" height="150" fill="url(#rd1)"/><rect x="40" y="-5" width="180" height="70" fill="url(#ld1)"/><ellipse cx="90.5" cy="51.7" rx="4.5" ry="4" fill="#666666"/><ellipse cx="86" cy="87.6" rx="3.5" ry="6.5" fill="#6a6a6a"/><ellipse cx="155.6" cy="102.3" rx="6" ry="3.5" fill="#808080" transform="rotate(-20 155.6 102.3)"/><ellipse cx="126" cy="2.3" rx="2.5" ry="2.5" fill="#999999"/><ellipse cx="198" cy="10" rx="3" ry="2.5" fill="#868686"/><ellipse cx="209.5" cy="79.8" rx="3" ry="2.5" fill="#939393"/><ellipse cx="47.8" cy="85.4" rx="4.5" ry="3.5" fill="#5c5c5c"/><ellipse cx="30" cy="100" rx="5" ry="4" fill="#575757"/><ellipse cx="15" cy="115" rx="8" ry="4" fill="#535353"/><ellipse cx="170" cy="135" rx="4" ry="3" fill="#606060"/><ellipse cx="60" cy="60" rx="6" ry="3" fill="#535353" transform="rotate(30 60 60)"/><ellipse cx="120" cy="120" rx="5" ry="3" fill="#535353" transform="rotate(30 120 120)"/><ellipse cx="40" cy="75" rx="10" ry="4" fill="#464646" transform="rotate(25 40 75)"/><ellipse cx="25" cy="128" rx="10" ry="5" fill="#4a4a4a" transform="rotate(20 25 128)"/><ellipse cx="70" cy="110" rx="8" ry="3" fill="#464646" transform="rotate(25 70 110)"/><ellipse cx="100" cy="70" rx="6" ry="3" fill="#424242" transform="rotate(25 100 70)"/><ellipse cx="140" cy="30" rx="5" ry="3" fill="#424242" transform="rotate(25 140 30)"/></g>
<g opacity="0.5"><rect x="-217" y="-217" width="652" height="574" filter="url(#nz4)" transform="rotate(21 108.7 69.4)"/></g></g>
</svg>
<rect x="84.1" y="1124.7" width="217.40" height="138.90" fill="none" stroke="#7a746f" stroke-width="1.6"/>
<line x1="78.10" y1="1124.70" x2="84.10" y2="1124.70" stroke="#7a746f" stroke-width="1.6"/>
<line x1="78.10" y1="1263.60" x2="84.10" y2="1263.60" stroke="#7a746f" stroke-width="1.6"/>
<line x1="301.50" y1="1124.70" x2="307.50" y2="1124.70" stroke="#7a746f" stroke-width="1.6"/>
<line x1="301.50" y1="1263.60" x2="307.50" y2="1263.60" stroke="#7a746f" stroke-width="1.6"/>
<line x1="84.10" y1="1121.70" x2="84.10" y2="1124.70" stroke="#7a746f" stroke-width="1.6"/>
<line x1="301.50" y1="1121.70" x2="301.50" y2="1124.70" stroke="#7a746f" stroke-width="1.6"/>
<line x1="84.10" y1="1263.60" x2="84.10" y2="1266.60" stroke="#7a746f" stroke-width="1.6"/>
<line x1="301.50" y1="1263.60" x2="301.50" y2="1266.60" stroke="#7a746f" stroke-width="1.6"/>
<text transform="translate(75.10,1129.93) scale(0.85,1)" font-size="14.6" fill="#6a6a6a" text-anchor="end" font-family='"Liberation Sans", Arial, sans-serif'>3.28</text>
<text transform="translate(75.10,1269.33) scale(0.85,1)" font-size="14.6" fill="#6a6a6a" text-anchor="end" font-family='"Liberation Sans", Arial, sans-serif'>13.93</text>
<text transform="translate(83.60,1287.80) scale(0.85,1)" font-size="14.6" fill="#6a6a6a" text-anchor="middle" font-family='"Liberation Sans", Arial, sans-serif'>0.10</text>
<text transform="translate(302.00,1287.80) scale(0.85,1)" font-size="14.6" fill="#6a6a6a" text-anchor="middle" font-family='"Liberation Sans", Arial, sans-serif'>21.13</text>
<text transform="translate(192.80,1313.00) scale(0.957,1)" font-size="14.5" fill="#6a6a6a" text-anchor="middle" font-family='"Liberation Sans", Arial, sans-serif'>X(mm)</text>
<text transform="translate(31.20,1194.20) rotate(-90) scale(1.249,1)" font-size="14.5" fill="#6a6a6a" text-anchor="middle" font-family='"Liberation Sans", Arial, sans-serif'>Y(mm)</text>
<text x="348.70" y="1065.00" font-size="16.501896551724137" fill="#1e1e1e" text-anchor="start" font-family='"Liberation Sans", Arial, sans-serif' stroke="#1e1e1e" stroke-width="0.3">Retardation (nm)</text>
<rect x="350.3" y="1091.30" width="31.30" height="21.25" fill="#ff3000"/>
<rect x="350.3" y="1112.15" width="31.30" height="21.25" fill="#ff5a00"/>
<rect x="350.3" y="1132.99" width="31.30" height="21.25" fill="#ff8000"/>
<rect x="350.3" y="1153.84" width="31.30" height="21.25" fill="#ffa000"/>
<rect x="350.3" y="1174.68" width="31.30" height="21.25" fill="#ffc000"/>
<rect x="350.3" y="1195.53" width="31.30" height="21.25" fill="#ffd800"/>
<rect x="350.3" y="1216.37" width="31.30" height="21.25" fill="#ffee00"/>
<rect x="350.3" y="1237.22" width="31.30" height="21.25" fill="#eef600"/>
<rect x="350.3" y="1258.06" width="31.30" height="21.25" fill="#b5d600"/>
<rect x="350.3" y="1278.91" width="31.30" height="21.25" fill="#72b800"/>
<rect x="350.3" y="1299.75" width="31.30" height="21.25" fill="#33a010"/>
<text transform="translate(405.50,1095.41) scale(0.7505,1)" font-size="15.959999999999999" fill="#111" text-anchor="end" font-family='"Liberation Sans", Arial, sans-serif' stroke="#111" stroke-width="0.25">8.72</text>
<text transform="translate(405.50,1116.26) scale(0.7505,1)" font-size="15.959999999999999" fill="#111" text-anchor="end" font-family='"Liberation Sans", Arial, sans-serif' stroke="#111" stroke-width="0.25">8.29</text>
<text transform="translate(405.50,1137.10) scale(0.7505,1)" font-size="15.959999999999999" fill="#111" text-anchor="end" font-family='"Liberation Sans", Arial, sans-serif' stroke="#111" stroke-width="0.25">7.85</text>
<text transform="translate(405.50,1157.95) scale(0.7505,1)" font-size="15.959999999999999" fill="#111" text-anchor="end" font-family='"Liberation Sans", Arial, sans-serif' stroke="#111" stroke-width="0.25">7.41</text>
<text transform="translate(405.50,1178.80) scale(0.7505,1)" font-size="15.959999999999999" fill="#111" text-anchor="end" font-family='"Liberation Sans", Arial, sans-serif' stroke="#111" stroke-width="0.25">6.98</text>
<text transform="translate(405.50,1199.64) scale(0.7505,1)" font-size="15.959999999999999" fill="#111" text-anchor="end" font-family='"Liberation Sans", Arial, sans-serif' stroke="#111" stroke-width="0.25">6.54</text>
<text transform="translate(405.24,1220.49) scale(0.7505,1)" font-size="15.959999999999999" fill="#111" text-anchor="end" font-family='"Liberation Sans", Arial, sans-serif' stroke="#111" stroke-width="0.25">6.11</text>
<text transform="translate(405.50,1241.33) scale(0.7505,1)" font-size="15.959999999999999" fill="#111" text-anchor="end" font-family='"Liberation Sans", Arial, sans-serif' stroke="#111" stroke-width="0.25">5.67</text>
<text transform="translate(405.50,1262.18) scale(0.7505,1)" font-size="15.959999999999999" fill="#111" text-anchor="end" font-family='"Liberation Sans", Arial, sans-serif' stroke="#111" stroke-width="0.25">5.23</text>
<text transform="translate(403.50,1283.02) scale(0.7505,1)" font-size="15.959999999999999" fill="#111" text-anchor="end" font-family='"Liberation Sans", Arial, sans-serif' stroke="#111" stroke-width="0.25">4.8</text>
<text transform="translate(405.50,1303.87) scale(0.7505,1)" font-size="15.959999999999999" fill="#111" text-anchor="end" font-family='"Liberation Sans", Arial, sans-serif' stroke="#111" stroke-width="0.25">4.36</text>
<rect x="422.1" y="1091.30" width="31.30" height="21.29" fill="#078207"/>
<rect x="422.1" y="1112.19" width="31.30" height="21.29" fill="#2a8c40"/>
<rect x="422.1" y="1133.08" width="31.30" height="21.29" fill="#4aa47c"/>
<rect x="422.1" y="1153.97" width="31.30" height="21.29" fill="#6ab8b8"/>
<rect x="422.1" y="1174.86" width="31.30" height="21.29" fill="#7cc0ec"/>
<rect x="422.1" y="1195.74" width="31.30" height="21.29" fill="#5a8cf0"/>
<rect x="422.1" y="1216.63" width="31.30" height="21.29" fill="#3c5af8"/>
<rect x="422.1" y="1237.52" width="31.30" height="21.29" fill="#2020ff"/>
<rect x="422.1" y="1258.41" width="31.30" height="21.29" fill="#0000ff"/>
<text transform="translate(476.80,1095.41) scale(0.7505,1)" font-size="15.959999999999999" fill="#111" text-anchor="end" font-family='"Liberation Sans", Arial, sans-serif' stroke="#111" stroke-width="0.25">3.93</text>
<text transform="translate(476.80,1116.30) scale(0.7505,1)" font-size="15.959999999999999" fill="#111" text-anchor="end" font-family='"Liberation Sans", Arial, sans-serif' stroke="#111" stroke-width="0.25">3.49</text>
<text transform="translate(476.80,1137.19) scale(0.7505,1)" font-size="15.959999999999999" fill="#111" text-anchor="end" font-family='"Liberation Sans", Arial, sans-serif' stroke="#111" stroke-width="0.25">3.05</text>
<text transform="translate(476.80,1158.08) scale(0.7505,1)" font-size="15.959999999999999" fill="#111" text-anchor="end" font-family='"Liberation Sans", Arial, sans-serif' stroke="#111" stroke-width="0.25">2.62</text>
<text transform="translate(476.80,1178.97) scale(0.7505,1)" font-size="15.959999999999999" fill="#111" text-anchor="end" font-family='"Liberation Sans", Arial, sans-serif' stroke="#111" stroke-width="0.25">2.18</text>
<text transform="translate(476.80,1199.86) scale(0.7505,1)" font-size="15.959999999999999" fill="#111" text-anchor="end" font-family='"Liberation Sans", Arial, sans-serif' stroke="#111" stroke-width="0.25">1.74</text>
<text transform="translate(476.80,1220.75) scale(0.7505,1)" font-size="15.959999999999999" fill="#111" text-anchor="end" font-family='"Liberation Sans", Arial, sans-serif' stroke="#111" stroke-width="0.25">1.31</text>
<text transform="translate(476.80,1241.64) scale(0.7505,1)" font-size="15.959999999999999" fill="#111" text-anchor="end" font-family='"Liberation Sans", Arial, sans-serif' stroke="#111" stroke-width="0.25">0.87</text>
<text transform="translate(476.80,1262.52) scale(0.7505,1)" font-size="15.959999999999999" fill="#111" text-anchor="end" font-family='"Liberation Sans", Arial, sans-serif' stroke="#111" stroke-width="0.25">0.44</text>
<text transform="translate(471.81,1283.41) scale(0.7505,1)" font-size="15.959999999999999" fill="#111" text-anchor="end" font-family='"Liberation Sans", Arial, sans-serif' stroke="#111" stroke-width="0.25">0</text>
<svg x="624" y="177.5" width="200.90" height="86.40" viewBox="0 0 200.90 86.40" overflow="hidden">
<defs><filter id="bl5" x="-20%" y="-20%" width="140%" height="140%"><feGaussianBlur stdDeviation="1.5"/></filter><filter id="cm5" x="0" y="0" width="200.90" height="86.40" filterUnits="userSpaceOnUse" color-interpolation-filters="sRGB">
<feColorMatrix type="matrix" values="2 0 0 0 -0.5  2 0 0 0 -0.5  2 0 0 0 -0.5  0 0 0 0 1"/>
<feComponentTransfer><feFuncR type="discrete" tableValues="0.000 0.125 0.235 0.353 0.486 0.416 0.290 0.165 0.027 0.200 0.447 0.710 0.933 1.000 1.000 1.000 1.000 1.000 1.000 1.000"/><feFuncG type="discrete" tableValues="0.000 0.125 0.353 0.549 0.753 0.722 0.643 0.549 0.510 0.627 0.722 0.839 0.965 0.933 0.847 0.753 0.627 0.502 0.353 0.188"/><feFuncB type="discrete" tableValues="1.000 1.000 0.973 0.941 0.925 0.722 0.486 0.251 0.027 0.063 0.000 0.000 0.000 0.000 0.000 0.000 0.000 0.000 0.000 0.000"/></feComponentTransfer>
<feGaussianBlur stdDeviation="0.45"/>
</filter>
<filter id="nz5" x="0" y="0" width="1" height="1" color-interpolation-filters="sRGB">
<feTurbulence type="fractalNoise" baseFrequency="0.05 0.15" numOctaves="3" seed="11"/>
<feColorMatrix type="matrix" values="0.167 0 0 0 0.417  0.167 0 0 0 0.417  0.167 0 0 0 0.417  0 0 0 0 1"/>
</filter></defs>
<g filter="url(#cm5)"><g filter="url(#bl5)"><rect x="-10" y="-10" width="220.9" height="106.4" fill="#a6a6a6"/><rect x="-5" y="40" width="215" height="38" fill="#bfbfbf"/><rect x="-5" y="56" width="215" height="22" fill="#cfcfcf"/><ellipse cx="10" cy="62" rx="30" ry="15" fill="#dddddd"/><ellipse cx="80" cy="65" rx="36" ry="7" fill="#dddddd"/><ellipse cx="160" cy="61" rx="45" ry="16" fill="#dddddd"/><ellipse cx="15" cy="62" rx="25" ry="14" fill="#dfdfdf"/><ellipse cx="12" cy="64" rx="12" ry="7" fill="#f0f0f0"/><ellipse cx="80" cy="64" rx="32" ry="5" fill="#e3e3e3"/><ellipse cx="147" cy="50" rx="20" ry="6" fill="#e6e6e6"/><ellipse cx="147" cy="52" rx="7" ry="3" fill="#f0f0f0"/><ellipse cx="165" cy="69" rx="28" ry="7" fill="#e8e8e8"/><ellipse cx="170" cy="70" rx="15" ry="4" fill="#f0f0f0"/><ellipse cx="115" cy="40" rx="12" ry="15" fill="#bababa"/><ellipse cx="55" cy="38" rx="40" ry="9" fill="#aaaaaa"/><polygon points="-5,-5 210,-5 210,16 150,15 100,12 50,9 -5,8" fill="#6a6a6a"/><ellipse cx="150" cy="5" rx="40" ry="1.5" fill="#464646"/><ellipse cx="185" cy="10" rx="20" ry="1.5" fill="#404040"/><ellipse cx="40" cy="3" rx="8" ry="1.5" fill="#404040"/><polygon points="-5,8 50,9 100,12 150,15 210,16 210,20 -5,12" fill="#868686"/><ellipse cx="29" cy="19.5" rx="11" ry="5" fill="#8c8c8c"/><ellipse cx="65" cy="27" rx="12" ry="6" fill="#8c8c8c"/><ellipse cx="152" cy="26" rx="17" ry="5" fill="#8c8c8c"/><ellipse cx="185" cy="20" rx="10" ry="3" fill="#8c8c8c"/><polygon points="-5,75 100,80 210,84 210,95 -5,95" fill="#6a6a6a"/><polygon points="-5,77.5 100,81.5 210,85 210,86.5 100,83.5 -5,80" fill="#939393"/><rect x="-5" y="83.5" width="67" height="10" fill="#2d2d2d"/></g>
<g opacity="0.5"><rect x="-201" y="-201" width="603" height="488" filter="url(#nz5)" transform="rotate(0 100.4 43.2)"/></g></g>
</svg>
<rect x="624" y="177.5" width="200.90" height="86.40" fill="none" stroke="#7a746f" stroke-width="1.6"/>
<line x1="618.00" y1="177.50" x2="624.00" y2="177.50" stroke="#7a746f" stroke-width="1.6"/>
<line x1="618.00" y1="263.90" x2="624.00" y2="263.90" stroke="#7a746f" stroke-width="1.6"/>
<line x1="824.90" y1="177.50" x2="830.90" y2="177.50" stroke="#7a746f" stroke-width="1.6"/>
<line x1="824.90" y1="263.90" x2="830.90" y2="263.90" stroke="#7a746f" stroke-width="1.6"/>
<line x1="624.00" y1="174.50" x2="624.00" y2="177.50" stroke="#7a746f" stroke-width="1.6"/>
<line x1="824.90" y1="174.50" x2="824.90" y2="177.50" stroke="#7a746f" stroke-width="1.6"/>
<line x1="624.00" y1="263.90" x2="624.00" y2="266.90" stroke="#7a746f" stroke-width="1.6"/>
<line x1="824.90" y1="263.90" x2="824.90" y2="266.90" stroke="#7a746f" stroke-width="1.6"/>
<text transform="translate(615.30,181.94) scale(0.89,1)" font-size="12.4" fill="#6a6a6a" text-anchor="end" font-family='"Liberation Sans", Arial, sans-serif'>27.31</text>
<text transform="translate(615.30,268.84) scale(0.89,1)" font-size="12.4" fill="#6a6a6a" text-anchor="end" font-family='"Liberation Sans", Arial, sans-serif'>162.68</text>
<text transform="translate(623.50,284.50) scale(0.89,1)" font-size="12.4" fill="#6a6a6a" text-anchor="middle" font-family='"Liberation Sans", Arial, sans-serif'>10.09</text>
<text transform="translate(825.40,284.50) scale(0.89,1)" font-size="12.4" fill="#6a6a6a" text-anchor="middle" font-family='"Liberation Sans", Arial, sans-serif'>378.80</text>
<text transform="translate(724.45,305.60) scale(0.927,1)" font-size="14.2" fill="#6a6a6a" text-anchor="middle" font-family='"Liberation Sans", Arial, sans-serif'>X( μ m)</text>
<text transform="translate(563.90,221.60) rotate(90) scale(1.184,1)" font-size="13.5" fill="#6a6a6a" text-anchor="middle" font-family='"Liberation Sans", Arial, sans-serif'>Y( μ m)</text>
<text x="860.20" y="100.00" font-size="15.30706896551724" fill="#1e1e1e" text-anchor="start" font-family='"Liberation Sans", Arial, sans-serif' stroke="#1e1e1e" stroke-width="0.3">Retardation (nm)</text>
<rect x="859.9" y="132.00" width="29.20" height="18.36" fill="#ff3000"/>
<rect x="859.9" y="149.96" width="29.20" height="18.36" fill="#ff5a00"/>
<rect x="859.9" y="167.93" width="29.20" height="18.36" fill="#ff8000"/>
<rect x="859.9" y="185.89" width="29.20" height="18.36" fill="#ffa000"/>
<rect x="859.9" y="203.85" width="29.20" height="18.36" fill="#ffc000"/>
<rect x="859.9" y="221.82" width="29.20" height="18.36" fill="#ffd800"/>
<rect x="859.9" y="239.78" width="29.20" height="18.36" fill="#ffee00"/>
<rect x="859.9" y="257.75" width="29.20" height="18.36" fill="#eef600"/>
<rect x="859.9" y="275.71" width="29.20" height="18.36" fill="#b5d600"/>
<rect x="859.9" y="293.67" width="29.20" height="18.36" fill="#72b800"/>
<rect x="859.9" y="311.64" width="29.20" height="18.36" fill="#33a010"/>
<text transform="translate(917.30,135.59) scale(0.76,1)" font-size="14.490000000000002" fill="#111" text-anchor="end" font-family='"Liberation Sans", Arial, sans-serif' stroke="#111" stroke-width="0.25">235.5</text>
<text transform="translate(917.30,153.55) scale(0.76,1)" font-size="14.490000000000002" fill="#111" text-anchor="end" font-family='"Liberation Sans", Arial, sans-serif' stroke="#111" stroke-width="0.25">224.4</text>
<text transform="translate(917.30,171.51) scale(0.76,1)" font-size="14.490000000000002" fill="#111" text-anchor="end" font-family='"Liberation Sans", Arial, sans-serif' stroke="#111" stroke-width="0.25">213.3</text>
<text transform="translate(917.30,189.48) scale(0.76,1)" font-size="14.490000000000002" fill="#111" text-anchor="end" font-family='"Liberation Sans", Arial, sans-serif' stroke="#111" stroke-width="0.25">202.2</text>
<text transform="translate(917.30,207.44) scale(0.76,1)" font-size="14.490000000000002" fill="#111" text-anchor="end" font-family='"Liberation Sans", Arial, sans-serif' stroke="#111" stroke-width="0.25">191.1</text>
<text transform="translate(917.30,225.41) scale(0.76,1)" font-size="14.490000000000002" fill="#111" text-anchor="end" font-family='"Liberation Sans", Arial, sans-serif' stroke="#111" stroke-width="0.25">179.9</text>
<text transform="translate(917.30,243.37) scale(0.76,1)" font-size="14.490000000000002" fill="#111" text-anchor="end" font-family='"Liberation Sans", Arial, sans-serif' stroke="#111" stroke-width="0.25">168.8</text>
<text transform="translate(917.30,261.33) scale(0.76,1)" font-size="14.490000000000002" fill="#111" text-anchor="end" font-family='"Liberation Sans", Arial, sans-serif' stroke="#111" stroke-width="0.25">157.7</text>
<text transform="translate(917.30,279.30) scale(0.76,1)" font-size="14.490000000000002" fill="#111" text-anchor="end" font-family='"Liberation Sans", Arial, sans-serif' stroke="#111" stroke-width="0.25">146.6</text>
<text transform="translate(917.30,297.26) scale(0.76,1)" font-size="14.490000000000002" fill="#111" text-anchor="end" font-family='"Liberation Sans", Arial, sans-serif' stroke="#111" stroke-width="0.25">135.5</text>
<text transform="translate(917.30,315.22) scale(0.76,1)" font-size="14.490000000000002" fill="#111" text-anchor="end" font-family='"Liberation Sans", Arial, sans-serif' stroke="#111" stroke-width="0.25">124.3</text>
<rect x="932.2" y="132.00" width="28.90" height="18.36" fill="#078207"/>
<rect x="932.2" y="149.96" width="28.90" height="18.36" fill="#2a8c40"/>
<rect x="932.2" y="167.91" width="28.90" height="18.36" fill="#4aa47c"/>
<rect x="932.2" y="185.87" width="28.90" height="18.36" fill="#6ab8b8"/>
<rect x="932.2" y="203.82" width="28.90" height="18.36" fill="#7cc0ec"/>
<rect x="932.2" y="221.78" width="28.90" height="18.36" fill="#5a8cf0"/>
<rect x="932.2" y="239.73" width="28.90" height="18.36" fill="#3c5af8"/>
<rect x="932.2" y="257.69" width="28.90" height="18.36" fill="#2020ff"/>
<rect x="932.2" y="275.64" width="28.90" height="18.36" fill="#0000ff"/>
<text transform="translate(989.15,135.59) scale(0.76,1)" font-size="14.490000000000002" fill="#111" text-anchor="end" font-family='"Liberation Sans", Arial, sans-serif' stroke="#111" stroke-width="0.25">113.2</text>
<text transform="translate(989.40,153.54) scale(0.76,1)" font-size="14.490000000000002" fill="#111" text-anchor="end" font-family='"Liberation Sans", Arial, sans-serif' stroke="#111" stroke-width="0.25">102.1</text>
<text transform="translate(984.81,171.50) scale(0.76,1)" font-size="14.490000000000002" fill="#111" text-anchor="end" font-family='"Liberation Sans", Arial, sans-serif' stroke="#111" stroke-width="0.25">91</text>
<text transform="translate(987.56,189.45) scale(0.76,1)" font-size="14.490000000000002" fill="#111" text-anchor="end" font-family='"Liberation Sans", Arial, sans-serif' stroke="#111" stroke-width="0.25">79.9</text>
<text transform="translate(987.56,207.41) scale(0.76,1)" font-size="14.490000000000002" fill="#111" text-anchor="end" font-family='"Liberation Sans", Arial, sans-serif' stroke="#111" stroke-width="0.25">68.7</text>
<text transform="translate(987.56,225.37) scale(0.76,1)" font-size="14.490000000000002" fill="#111" text-anchor="end" font-family='"Liberation Sans", Arial, sans-serif' stroke="#111" stroke-width="0.25">57.6</text>
<text transform="translate(987.56,243.32) scale(0.76,1)" font-size="14.490000000000002" fill="#111" text-anchor="end" font-family='"Liberation Sans", Arial, sans-serif' stroke="#111" stroke-width="0.25">46.5</text>
<text transform="translate(987.56,261.28) scale(0.76,1)" font-size="14.490000000000002" fill="#111" text-anchor="end" font-family='"Liberation Sans", Arial, sans-serif' stroke="#111" stroke-width="0.25">35.4</text>
<text transform="translate(987.56,279.23) scale(0.76,1)" font-size="14.490000000000002" fill="#111" text-anchor="end" font-family='"Liberation Sans", Arial, sans-serif' stroke="#111" stroke-width="0.25">24.3</text>
<text transform="translate(987.56,297.19) scale(0.76,1)" font-size="14.490000000000002" fill="#111" text-anchor="end" font-family='"Liberation Sans", Arial, sans-serif' stroke="#111" stroke-width="0.25">13.1</text>
<svg x="616" y="470.8" width="207.70" height="125.20" viewBox="0 0 207.70 125.20" overflow="hidden">
<defs><filter id="cm6" x="0" y="0" width="207.70" height="125.20" filterUnits="userSpaceOnUse" color-interpolation-filters="sRGB">
<feColorMatrix type="matrix" values="2 0 0 0 -0.5  2 0 0 0 -0.5  2 0 0 0 -0.5  0 0 0 0 1"/>
<feComponentTransfer><feFuncR type="discrete" tableValues="0.000 0.125 0.235 0.353 0.486 0.416 0.290 0.165 0.027 0.200 0.447 0.710 0.933 1.000 1.000 1.000 1.000 1.000 1.000 1.000"/><feFuncG type="discrete" tableValues="0.000 0.125 0.353 0.549 0.753 0.722 0.643 0.549 0.510 0.627 0.722 0.839 0.965 0.933 0.847 0.753 0.627 0.502 0.353 0.188"/><feFuncB type="discrete" tableValues="1.000 1.000 0.973 0.941 0.925 0.722 0.486 0.251 0.027 0.063 0.000 0.000 0.000 0.000 0.000 0.000 0.000 0.000 0.000 0.000"/></feComponentTransfer>
<feGaussianBlur stdDeviation="0.45"/>
</filter>
<filter id="nz6" x="0" y="0" width="1" height="1" color-interpolation-filters="sRGB">
<feTurbulence type="fractalNoise" baseFrequency="0.025 0.17" numOctaves="3" seed="13"/>
<feColorMatrix type="matrix" values="0.729 0 0 0 0.135  0.729 0 0 0 0.135  0.729 0 0 0 0.135  0 0 0 0 1"/>
</filter></defs>
<g filter="url(#cm6)"><g><rect x="-10" y="-10" width="227.7" height="145.2" fill="#363636"/></g>
<g opacity="0.5"><rect x="-208" y="-208" width="623" height="541" filter="url(#nz6)" transform="rotate(4 103.9 62.6)"/></g></g>
</svg>
<rect x="616" y="470.8" width="207.70" height="125.20" fill="none" stroke="#7a746f" stroke-width="1.6"/>
<line x1="610.00" y1="470.80" x2="616.00" y2="470.80" stroke="#7a746f" stroke-width="1.6"/>
<line x1="610.00" y1="596.00" x2="616.00" y2="596.00" stroke="#7a746f" stroke-width="1.6"/>
<line x1="823.70" y1="470.80" x2="829.70" y2="470.80" stroke="#7a746f" stroke-width="1.6"/>
<line x1="823.70" y1="596.00" x2="829.70" y2="596.00" stroke="#7a746f" stroke-width="1.6"/>
<line x1="616.00" y1="467.80" x2="616.00" y2="470.80" stroke="#7a746f" stroke-width="1.6"/>
<line x1="823.70" y1="467.80" x2="823.70" y2="470.80" stroke="#7a746f" stroke-width="1.6"/>
<line x1="616.00" y1="596.00" x2="616.00" y2="599.00" stroke="#7a746f" stroke-width="1.6"/>
<line x1="823.70" y1="596.00" x2="823.70" y2="599.00" stroke="#7a746f" stroke-width="1.6"/>
<text transform="translate(607.10,475.81) scale(0.82,1)" font-size="14" fill="#6a6a6a" text-anchor="end" font-family='"Liberation Sans", Arial, sans-serif'>1.98</text>
<text transform="translate(607.10,601.51) scale(0.82,1)" font-size="14" fill="#6a6a6a" text-anchor="end" font-family='"Liberation Sans", Arial, sans-serif'>10.95</text>
<text transform="translate(615.50,616.20) scale(0.82,1)" font-size="14" fill="#6a6a6a" text-anchor="middle" font-family='"Liberation Sans", Arial, sans-serif'>0.00</text>
<text transform="translate(824.20,616.20) scale(0.82,1)" font-size="14" fill="#6a6a6a" text-anchor="middle" font-family='"Liberation Sans", Arial, sans-serif'>16.90</text>
<text transform="translate(719.85,637.50) scale(0.949,1)" font-size="14.2" fill="#6a6a6a" text-anchor="middle" font-family='"Liberation Sans", Arial, sans-serif'>X(mm)</text>
<text transform="translate(565.70,533.40) rotate(-90) scale(1.193,1)" font-size="13.5" fill="#6a6a6a" text-anchor="middle" font-family='"Liberation Sans", Arial, sans-serif'>Y(mm)</text>
<text x="877.70" y="418.50" font-size="15.705344827586206" fill="#1e1e1e" text-anchor="start" font-family='"Liberation Sans", Arial, sans-serif' stroke="#1e1e1e" stroke-width="0.3">Retardation (nm)</text>
<rect x="876.8" y="446.00" width="29.80" height="18.13" fill="#ff3000"/>
<rect x="876.8" y="463.73" width="29.80" height="18.13" fill="#ff5a00"/>
<rect x="876.8" y="481.45" width="29.80" height="18.13" fill="#ff8000"/>
<rect x="876.8" y="499.18" width="29.80" height="18.13" fill="#ffa000"/>
<rect x="876.8" y="516.91" width="29.80" height="18.13" fill="#ffc000"/>
<rect x="876.8" y="534.64" width="29.80" height="18.13" fill="#ffd800"/>
<rect x="876.8" y="552.36" width="29.80" height="18.13" fill="#ffee00"/>
<rect x="876.8" y="570.09" width="29.80" height="18.13" fill="#eef600"/>
<rect x="876.8" y="587.82" width="29.80" height="18.13" fill="#b5d600"/>
<rect x="876.8" y="605.55" width="29.80" height="18.13" fill="#72b800"/>
<rect x="876.8" y="623.27" width="29.80" height="18.13" fill="#33a010"/>
<text transform="translate(936.00,449.47) scale(0.7979999999999999,1)" font-size="14.175" fill="#111" text-anchor="end" font-family='"Liberation Sans", Arial, sans-serif' stroke="#111" stroke-width="0.25">128.2</text>
<text transform="translate(936.00,467.20) scale(0.7979999999999999,1)" font-size="14.175" fill="#111" text-anchor="end" font-family='"Liberation Sans", Arial, sans-serif' stroke="#111" stroke-width="0.25">121.8</text>
<text transform="translate(935.75,484.93) scale(0.7979999999999999,1)" font-size="14.175" fill="#111" text-anchor="end" font-family='"Liberation Sans", Arial, sans-serif' stroke="#111" stroke-width="0.25">115.4</text>
<text transform="translate(933.17,502.66) scale(0.7979999999999999,1)" font-size="14.175" fill="#111" text-anchor="end" font-family='"Liberation Sans", Arial, sans-serif' stroke="#111" stroke-width="0.25">109</text>
<text transform="translate(936.00,520.38) scale(0.7979999999999999,1)" font-size="14.175" fill="#111" text-anchor="end" font-family='"Liberation Sans", Arial, sans-serif' stroke="#111" stroke-width="0.25">102.6</text>
<text transform="translate(934.11,538.11) scale(0.7979999999999999,1)" font-size="14.175" fill="#111" text-anchor="end" font-family='"Liberation Sans", Arial, sans-serif' stroke="#111" stroke-width="0.25">96.2</text>
<text transform="translate(934.11,555.84) scale(0.7979999999999999,1)" font-size="14.175" fill="#111" text-anchor="end" font-family='"Liberation Sans", Arial, sans-serif' stroke="#111" stroke-width="0.25">89.8</text>
<text transform="translate(934.11,573.57) scale(0.7979999999999999,1)" font-size="14.175" fill="#111" text-anchor="end" font-family='"Liberation Sans", Arial, sans-serif' stroke="#111" stroke-width="0.25">83.4</text>
<text transform="translate(931.28,591.29) scale(0.7979999999999999,1)" font-size="14.175" fill="#111" text-anchor="end" font-family='"Liberation Sans", Arial, sans-serif' stroke="#111" stroke-width="0.25">77</text>
<text transform="translate(934.11,609.02) scale(0.7979999999999999,1)" font-size="14.175" fill="#111" text-anchor="end" font-family='"Liberation Sans", Arial, sans-serif' stroke="#111" stroke-width="0.25">70.6</text>
<text transform="translate(934.11,626.75) scale(0.7979999999999999,1)" font-size="14.175" fill="#111" text-anchor="end" font-family='"Liberation Sans", Arial, sans-serif' stroke="#111" stroke-width="0.25">64.2</text>
<rect x="951.6" y="446.00" width="29.90" height="18.13" fill="#078207"/>
<rect x="951.6" y="463.73" width="29.90" height="18.13" fill="#2a8c40"/>
<rect x="951.6" y="481.47" width="29.90" height="18.13" fill="#4aa47c"/>
<rect x="951.6" y="499.20" width="29.90" height="18.13" fill="#6ab8b8"/>
<rect x="951.6" y="516.93" width="29.90" height="18.13" fill="#7cc0ec"/>
<rect x="951.6" y="534.67" width="29.90" height="18.13" fill="#5a8cf0"/>
<rect x="951.6" y="552.40" width="29.90" height="18.13" fill="#3c5af8"/>
<rect x="951.6" y="570.13" width="29.90" height="18.13" fill="#2020ff"/>
<rect x="951.6" y="587.87" width="29.90" height="18.13" fill="#0000ff"/>
<text transform="translate(1008.11,449.47) scale(0.7979999999999999,1)" font-size="14.175" fill="#111" text-anchor="end" font-family='"Liberation Sans", Arial, sans-serif' stroke="#111" stroke-width="0.25">57.8</text>
<text transform="translate(1008.11,467.21) scale(0.7979999999999999,1)" font-size="14.175" fill="#111" text-anchor="end" font-family='"Liberation Sans", Arial, sans-serif' stroke="#111" stroke-width="0.25">51.4</text>
<text transform="translate(1008.11,484.94) scale(0.7979999999999999,1)" font-size="14.175" fill="#111" text-anchor="end" font-family='"Liberation Sans", Arial, sans-serif' stroke="#111" stroke-width="0.25">44.9</text>
<text transform="translate(1008.11,502.67) scale(0.7979999999999999,1)" font-size="14.175" fill="#111" text-anchor="end" font-family='"Liberation Sans", Arial, sans-serif' stroke="#111" stroke-width="0.25">38.5</text>
<text transform="translate(1008.11,520.41) scale(0.7979999999999999,1)" font-size="14.175" fill="#111" text-anchor="end" font-family='"Liberation Sans", Arial, sans-serif' stroke="#111" stroke-width="0.25">32.1</text>
<text transform="translate(1008.11,538.14) scale(0.7979999999999999,1)" font-size="14.175" fill="#111" text-anchor="end" font-family='"Liberation Sans", Arial, sans-serif' stroke="#111" stroke-width="0.25">25.7</text>
<text transform="translate(1008.11,555.87) scale(0.7979999999999999,1)" font-size="14.175" fill="#111" text-anchor="end" font-family='"Liberation Sans", Arial, sans-serif' stroke="#111" stroke-width="0.25">19.3</text>
<text transform="translate(1008.11,573.61) scale(0.7979999999999999,1)" font-size="14.175" fill="#111" text-anchor="end" font-family='"Liberation Sans", Arial, sans-serif' stroke="#111" stroke-width="0.25">12.9</text>
<text transform="translate(1006.23,591.34) scale(0.7979999999999999,1)" font-size="14.175" fill="#111" text-anchor="end" font-family='"Liberation Sans", Arial, sans-serif' stroke="#111" stroke-width="0.25">6.5</text>
<text transform="translate(1006.23,609.07) scale(0.7979999999999999,1)" font-size="14.175" fill="#111" text-anchor="end" font-family='"Liberation Sans", Arial, sans-serif' stroke="#111" stroke-width="0.25">0.1</text>
<svg x="621.7" y="780" width="200.50" height="149.00" viewBox="0 0 200.50 149.00" overflow="hidden">
<defs><filter id="bl7" x="-20%" y="-20%" width="140%" height="140%"><feGaussianBlur stdDeviation="2"/></filter><filter id="cm7" x="0" y="0" width="200.50" height="149.00" filterUnits="userSpaceOnUse" color-interpolation-filters="sRGB">
<feColorMatrix type="matrix" values="2 0 0 0 -0.5  2 0 0 0 -0.5  2 0 0 0 -0.5  0 0 0 0 1"/>
<feComponentTransfer><feFuncR type="discrete" tableValues="0.000 0.125 0.235 0.353 0.486 0.416 0.290 0.165 0.027 0.200 0.447 0.710 0.933 1.000 1.000 1.000 1.000 1.000 1.000 1.000"/><feFuncG type="discrete" tableValues="0.000 0.125 0.353 0.549 0.753 0.722 0.643 0.549 0.510 0.627 0.722 0.839 0.965 0.933 0.847 0.753 0.627 0.502 0.353 0.188"/><feFuncB type="discrete" tableValues="1.000 1.000 0.973 0.941 0.925 0.722 0.486 0.251 0.027 0.063 0.000 0.000 0.000 0.000 0.000 0.000 0.000 0.000 0.000 0.000"/></feComponentTransfer>
<feGaussianBlur stdDeviation="0.45"/>
</filter>
<filter id="nz7" x="0" y="0" width="1" height="1" color-interpolation-filters="sRGB">
<feTurbulence type="fractalNoise" baseFrequency="0.02 0.12" numOctaves="3" seed="15"/>
<feColorMatrix type="matrix" values="0.375 0 0 0 0.312  0.375 0 0 0 0.312  0.375 0 0 0 0.312  0 0 0 0 1"/>
</filter></defs>
<g filter="url(#cm7)"><g filter="url(#bl7)"><rect x="-10" y="-10" width="220.5" height="169.0" fill="#383838"/><rect x="-5" y="5.5" width="215" height="5" fill="#141414"/><rect x="-5" y="3" width="215" height="2.5" fill="#292929"/><rect x="-5" y="10.5" width="215" height="2.5" fill="#292929"/><rect x="60" y="19" width="80" height="5" fill="#292929"/><rect x="150" y="19" width="50" height="5" fill="#292929"/><ellipse cx="100" cy="15" rx="40" ry="2" fill="#535353"/><rect x="-5" y="29" width="215" height="8" fill="#6a6a6a"/><rect x="-5" y="37" width="215" height="10" fill="#828282"/><rect x="-5" y="47" width="215" height="14" fill="#666666"/><polygon points="90,61 210,61 210,65.5 90,65.5" fill="#9d9d9d"/><rect x="-5" y="65.5" width="215" height="7.5" fill="#464646"/><ellipse cx="20" cy="70" rx="25" ry="3" fill="#202020"/><rect x="-5" y="73" width="215" height="3" fill="#666666"/><rect x="-5" y="76" width="215" height="6" fill="#6c6c6c"/><rect x="60" y="76" width="150" height="6" fill="#9e9e9e"/><rect x="-5" y="82" width="215" height="5.5" fill="#666666"/><defs><linearGradient id="gg1" x1="0" y1="0" x2="1" y2="0"><stop offset="0" stop-color="#404040" stop-opacity="1"/><stop offset="1" stop-color="#404040" stop-opacity="0"/></linearGradient></defs><rect x="-5" y="29" width="50" height="37" fill="url(#gg1)"/><ellipse cx="75" cy="33" rx="3" ry="2" fill="#939393"/><ellipse cx="147" cy="53" rx="3" ry="2.5" fill="#999999"/><rect x="-5" y="88" width="65" height="25" fill="#292929"/><ellipse cx="6" cy="99" rx="10" ry="11" fill="#0f0f0f"/><ellipse cx="130" cy="99" rx="30" ry="6" fill="#444444"/><rect x="-5" y="118" width="215" height="8" fill="#535353"/><rect x="-5" y="126" width="215" height="14" fill="#6a6a6a"/><polygon points="-5,137 67,137 100,131 170,128 170,133 100,135 67,141 -5,141" fill="#9f9f9f"/><rect x="-5" y="141" width="215" height="15" fill="#303030"/><ellipse cx="71" cy="131.6" rx="3" ry="2" fill="#c6c6c6"/></g>
<g opacity="0.5"><rect x="-200" y="-200" width="602" height="550" filter="url(#nz7)" transform="rotate(0 100.2 74.5)"/></g></g>
</svg>
<rect x="621.7" y="780" width="200.50" height="149.00" fill="none" stroke="#7a746f" stroke-width="1.6"/>
<line x1="615.70" y1="780.00" x2="621.70" y2="780.00" stroke="#7a746f" stroke-width="1.6"/>
<line x1="615.70" y1="929.00" x2="621.70" y2="929.00" stroke="#7a746f" stroke-width="1.6"/>
<line x1="822.20" y1="780.00" x2="828.20" y2="780.00" stroke="#7a746f" stroke-width="1.6"/>
<line x1="822.20" y1="929.00" x2="828.20" y2="929.00" stroke="#7a746f" stroke-width="1.6"/>
<line x1="621.70" y1="777.00" x2="621.70" y2="780.00" stroke="#7a746f" stroke-width="1.6"/>
<line x1="822.20" y1="777.00" x2="822.20" y2="780.00" stroke="#7a746f" stroke-width="1.6"/>
<line x1="621.70" y1="929.00" x2="621.70" y2="932.00" stroke="#7a746f" stroke-width="1.6"/>
<line x1="822.20" y1="929.00" x2="822.20" y2="932.00" stroke="#7a746f" stroke-width="1.6"/>
<text transform="translate(613.00,784.83) scale(0.85,1)" font-size="13.5" fill="#6a6a6a" text-anchor="end" font-family='"Liberation Sans", Arial, sans-serif'>0.43</text>
<text transform="translate(613.00,934.33) scale(0.85,1)" font-size="13.5" fill="#6a6a6a" text-anchor="end" font-family='"Liberation Sans", Arial, sans-serif'>11.51</text>
<text transform="translate(621.20,949.00) scale(0.85,1)" font-size="13.5" fill="#6a6a6a" text-anchor="middle" font-family='"Liberation Sans", Arial, sans-serif'>2.36</text>
<text transform="translate(822.70,949.00) scale(0.85,1)" font-size="13.5" fill="#6a6a6a" text-anchor="middle" font-family='"Liberation Sans", Arial, sans-serif'>20.34</text>
<text transform="translate(721.95,970.50) scale(0.93,1)" font-size="14.2" fill="#6a6a6a" text-anchor="middle" font-family='"Liberation Sans", Arial, sans-serif'>X(mm)</text>
<text transform="translate(573.60,854.90) rotate(-90) scale(1.215,1)" font-size="13.5" fill="#6a6a6a" text-anchor="middle" font-family='"Liberation Sans", Arial, sans-serif'>Y(mm)</text>
<text x="869.20" y="733.50" font-size="15.107931034482759" fill="#1e1e1e" text-anchor="start" font-family='"Liberation Sans", Arial, sans-serif' stroke="#1e1e1e" stroke-width="0.3">Retardation (nm)</text>
<rect x="868.9" y="765.20" width="29.10" height="18.53" fill="#ff3000"/>
<rect x="868.9" y="783.33" width="29.10" height="18.53" fill="#ff5a00"/>
<rect x="868.9" y="801.45" width="29.10" height="18.53" fill="#ff8000"/>
<rect x="868.9" y="819.58" width="29.10" height="18.53" fill="#ffa000"/>
<rect x="868.9" y="837.71" width="29.10" height="18.53" fill="#ffc000"/>
<rect x="868.9" y="855.84" width="29.10" height="18.53" fill="#ffd800"/>
<rect x="868.9" y="873.96" width="29.10" height="18.53" fill="#ffee00"/>
<rect x="868.9" y="892.09" width="29.10" height="18.53" fill="#eef600"/>
<rect x="868.9" y="910.22" width="29.10" height="18.53" fill="#b5d600"/>
<rect x="868.9" y="928.35" width="29.10" height="18.53" fill="#72b800"/>
<rect x="868.9" y="946.47" width="29.10" height="18.53" fill="#33a010"/>
<text transform="translate(925.80,768.49) scale(0.7979999999999999,1)" font-size="13.65" fill="#111" text-anchor="end" font-family='"Liberation Sans", Arial, sans-serif' stroke="#111" stroke-width="0.25">22.27</text>
<text transform="translate(925.80,786.61) scale(0.7979999999999999,1)" font-size="13.65" fill="#111" text-anchor="end" font-family='"Liberation Sans", Arial, sans-serif' stroke="#111" stroke-width="0.25">21.16</text>
<text transform="translate(925.80,804.74) scale(0.7979999999999999,1)" font-size="13.65" fill="#111" text-anchor="end" font-family='"Liberation Sans", Arial, sans-serif' stroke="#111" stroke-width="0.25">20.05</text>
<text transform="translate(925.80,822.87) scale(0.7979999999999999,1)" font-size="13.65" fill="#111" text-anchor="end" font-family='"Liberation Sans", Arial, sans-serif' stroke="#111" stroke-width="0.25">18.94</text>
<text transform="translate(925.80,841.00) scale(0.7979999999999999,1)" font-size="13.65" fill="#111" text-anchor="end" font-family='"Liberation Sans", Arial, sans-serif' stroke="#111" stroke-width="0.25">17.83</text>
<text transform="translate(925.80,859.12) scale(0.7979999999999999,1)" font-size="13.65" fill="#111" text-anchor="end" font-family='"Liberation Sans", Arial, sans-serif' stroke="#111" stroke-width="0.25">16.72</text>
<text transform="translate(925.80,877.25) scale(0.7979999999999999,1)" font-size="13.65" fill="#111" text-anchor="end" font-family='"Liberation Sans", Arial, sans-serif' stroke="#111" stroke-width="0.25">15.61</text>
<text transform="translate(923.98,895.38) scale(0.7979999999999999,1)" font-size="13.65" fill="#111" text-anchor="end" font-family='"Liberation Sans", Arial, sans-serif' stroke="#111" stroke-width="0.25">14.5</text>
<text transform="translate(925.80,913.50) scale(0.7979999999999999,1)" font-size="13.65" fill="#111" text-anchor="end" font-family='"Liberation Sans", Arial, sans-serif' stroke="#111" stroke-width="0.25">13.39</text>
<text transform="translate(925.80,931.63) scale(0.7979999999999999,1)" font-size="13.65" fill="#111" text-anchor="end" font-family='"Liberation Sans", Arial, sans-serif' stroke="#111" stroke-width="0.25">12.28</text>
<text transform="translate(925.56,949.76) scale(0.7979999999999999,1)" font-size="13.65" fill="#111" text-anchor="end" font-family='"Liberation Sans", Arial, sans-serif' stroke="#111" stroke-width="0.25">11.17</text>
<rect x="941.3" y="765.20" width="28.70" height="18.52" fill="#078207"/>
<rect x="941.3" y="783.32" width="28.70" height="18.52" fill="#2a8c40"/>
<rect x="941.3" y="801.44" width="28.70" height="18.52" fill="#4aa47c"/>
<rect x="941.3" y="819.57" width="28.70" height="18.52" fill="#6ab8b8"/>
<rect x="941.3" y="837.69" width="28.70" height="18.52" fill="#7cc0ec"/>
<rect x="941.3" y="855.81" width="28.70" height="18.52" fill="#5a8cf0"/>
<rect x="941.3" y="873.93" width="28.70" height="18.52" fill="#3c5af8"/>
<rect x="941.3" y="892.06" width="28.70" height="18.52" fill="#2020ff"/>
<rect x="941.3" y="910.18" width="28.70" height="18.52" fill="#0000ff"/>
<text transform="translate(998.40,768.49) scale(0.7979999999999999,1)" font-size="13.65" fill="#111" text-anchor="end" font-family='"Liberation Sans", Arial, sans-serif' stroke="#111" stroke-width="0.25">10.05</text>
<text transform="translate(996.58,786.61) scale(0.7979999999999999,1)" font-size="13.65" fill="#111" text-anchor="end" font-family='"Liberation Sans", Arial, sans-serif' stroke="#111" stroke-width="0.25">8.94</text>
<text transform="translate(996.58,804.73) scale(0.7979999999999999,1)" font-size="13.65" fill="#111" text-anchor="end" font-family='"Liberation Sans", Arial, sans-serif' stroke="#111" stroke-width="0.25">7.83</text>
<text transform="translate(996.58,822.85) scale(0.7979999999999999,1)" font-size="13.65" fill="#111" text-anchor="end" font-family='"Liberation Sans", Arial, sans-serif' stroke="#111" stroke-width="0.25">6.72</text>
<text transform="translate(996.58,840.98) scale(0.7979999999999999,1)" font-size="13.65" fill="#111" text-anchor="end" font-family='"Liberation Sans", Arial, sans-serif' stroke="#111" stroke-width="0.25">5.61</text>
<text transform="translate(994.77,859.10) scale(0.7979999999999999,1)" font-size="13.65" fill="#111" text-anchor="end" font-family='"Liberation Sans", Arial, sans-serif' stroke="#111" stroke-width="0.25">4.5</text>
<text transform="translate(996.58,877.22) scale(0.7979999999999999,1)" font-size="13.65" fill="#111" text-anchor="end" font-family='"Liberation Sans", Arial, sans-serif' stroke="#111" stroke-width="0.25">3.39</text>
<text transform="translate(996.58,895.34) scale(0.7979999999999999,1)" font-size="13.65" fill="#111" text-anchor="end" font-family='"Liberation Sans", Arial, sans-serif' stroke="#111" stroke-width="0.25">2.28</text>
<text transform="translate(996.58,913.46) scale(0.7979999999999999,1)" font-size="13.65" fill="#111" text-anchor="end" font-family='"Liberation Sans", Arial, sans-serif' stroke="#111" stroke-width="0.25">1.17</text>
<text transform="translate(996.58,931.59) scale(0.7979999999999999,1)" font-size="13.65" fill="#111" text-anchor="end" font-family='"Liberation Sans", Arial, sans-serif' stroke="#111" stroke-width="0.25">0.06</text>
<svg x="615.3" y="1132" width="210.20" height="109.90" viewBox="0 0 210.20 109.90" overflow="hidden">
<defs><filter id="bl8" x="-20%" y="-20%" width="140%" height="140%"><feGaussianBlur stdDeviation="3"/></filter><filter id="cm8" x="0" y="0" width="210.20" height="109.90" filterUnits="userSpaceOnUse" color-interpolation-filters="sRGB">
<feColorMatrix type="matrix" values="2 0 0 0 -0.5  2 0 0 0 -0.5  2 0 0 0 -0.5  0 0 0 0 1"/>
<feComponentTransfer><feFuncR type="discrete" tableValues="0.000 0.125 0.235 0.353 0.486 0.416 0.290 0.165 0.027 0.200 0.447 0.710 0.933 1.000 1.000 1.000 1.000 1.000 1.000 1.000"/><feFuncG type="discrete" tableValues="0.000 0.125 0.353 0.549 0.753 0.722 0.643 0.549 0.510 0.627 0.722 0.839 0.965 0.933 0.847 0.753 0.627 0.502 0.353 0.188"/><feFuncB type="discrete" tableValues="1.000 1.000 0.973 0.941 0.925 0.722 0.486 0.251 0.027 0.063 0.000 0.000 0.000 0.000 0.000 0.000 0.000 0.000 0.000 0.000"/></feComponentTransfer>
<feGaussianBlur stdDeviation="0.45"/>
</filter>
<filter id="nz8" x="0" y="0" width="1" height="1" color-interpolation-filters="sRGB">
<feTurbulence type="fractalNoise" baseFrequency="0.04" numOctaves="4" seed="17"/>
<feColorMatrix type="matrix" values="0.417 0 0 0 0.292  0.417 0 0 0 0.292  0.417 0 0 0 0.292  0 0 0 0 1"/>
</filter></defs>
<g filter="url(#cm8)"><g filter="url(#bl8)"><rect x="-10" y="-10" width="230.2" height="129.9" fill="#212121"/><ellipse cx="88" cy="18" rx="30" ry="16" fill="#252525"/><ellipse cx="166" cy="78" rx="20" ry="18" fill="#282828"/><rect x="-5" y="95" width="220" height="20" fill="#1f1f1f"/><ellipse cx="97" cy="58" rx="60" ry="22" fill="#141414"/><ellipse cx="131" cy="45" rx="8" ry="40" fill="#0a0a0a"/><ellipse cx="16" cy="72" rx="10" ry="13" fill="#131313"/><ellipse cx="16" cy="72" rx="3" ry="3" fill="#262626"/><ellipse cx="5" cy="105" rx="10" ry="6" fill="#0d0d0d"/><polygon points="-5,-5 44,-5 40,12 30,26 18,40 6,48 -5,50" fill="#585858"/><ellipse cx="33" cy="8" rx="7" ry="6" fill="#909090"/><polygon points="178,-5 215,-5 215,45 200,38 188,30 182,15" fill="#5c5c5c"/><ellipse cx="195" cy="18" rx="6" ry="5" fill="#939393"/><ellipse cx="100" cy="88" rx="7" ry="3" fill="#6c6c6c"/><ellipse cx="76" cy="83" rx="4" ry="2" fill="#535353"/></g>
<g opacity="0.5"><rect x="-210" y="-210" width="631" height="530" filter="url(#nz8)" transform="rotate(0 105.1 55.0)"/></g></g>
</svg>
<rect x="615.3" y="1132" width="210.20" height="109.90" fill="none" stroke="#7a746f" stroke-width="1.6"/>
<line x1="609.30" y1="1132.00" x2="615.30" y2="1132.00" stroke="#7a746f" stroke-width="1.6"/>
<line x1="609.30" y1="1241.90" x2="615.30" y2="1241.90" stroke="#7a746f" stroke-width="1.6"/>
<line x1="825.50" y1="1132.00" x2="831.50" y2="1132.00" stroke="#7a746f" stroke-width="1.6"/>
<line x1="825.50" y1="1241.90" x2="831.50" y2="1241.90" stroke="#7a746f" stroke-width="1.6"/>
<line x1="615.30" y1="1129.00" x2="615.30" y2="1132.00" stroke="#7a746f" stroke-width="1.6"/>
<line x1="825.50" y1="1129.00" x2="825.50" y2="1132.00" stroke="#7a746f" stroke-width="1.6"/>
<line x1="615.30" y1="1241.90" x2="615.30" y2="1244.90" stroke="#7a746f" stroke-width="1.6"/>
<line x1="825.50" y1="1241.90" x2="825.50" y2="1244.90" stroke="#7a746f" stroke-width="1.6"/>
<text transform="translate(606.50,1136.80) scale(0.89,1)" font-size="13.4" fill="#6a6a6a" text-anchor="end" font-family='"Liberation Sans", Arial, sans-serif'>0.00</text>
<text transform="translate(606.50,1247.20) scale(0.89,1)" font-size="13.4" fill="#6a6a6a" text-anchor="end" font-family='"Liberation Sans", Arial, sans-serif'>7.96</text>
<text transform="translate(614.80,1264.70) scale(0.89,1)" font-size="13.4" fill="#6a6a6a" text-anchor="middle" font-family='"Liberation Sans", Arial, sans-serif'>0.00</text>
<text transform="translate(826.00,1264.70) scale(0.89,1)" font-size="13.4" fill="#6a6a6a" text-anchor="middle" font-family='"Liberation Sans", Arial, sans-serif'>21.23</text>
<text transform="translate(720.40,1287.50) scale(0.963,1)" font-size="14.2" fill="#6a6a6a" text-anchor="middle" font-family='"Liberation Sans", Arial, sans-serif'>X(mm)</text>
<text transform="translate(567.10,1183.30) rotate(-90) scale(1.233,1)" font-size="13.5" fill="#6a6a6a" text-anchor="middle" font-family='"Liberation Sans", Arial, sans-serif'>Y(mm)</text>
<text x="875.20" y="1053.50" font-size="15.970862068965516" fill="#1e1e1e" text-anchor="start" font-family='"Liberation Sans", Arial, sans-serif' stroke="#1e1e1e" stroke-width="0.3">Retardation (nm)</text>
<rect x="873.3" y="1087.00" width="30.10" height="19.98" fill="#ff3000"/>
<rect x="873.3" y="1106.58" width="30.10" height="19.98" fill="#ff5a00"/>
<rect x="873.3" y="1126.16" width="30.10" height="19.98" fill="#ff8000"/>
<rect x="873.3" y="1145.75" width="30.10" height="19.98" fill="#ffa000"/>
<rect x="873.3" y="1165.33" width="30.10" height="19.98" fill="#ffc000"/>
<rect x="873.3" y="1184.91" width="30.10" height="19.98" fill="#ffd800"/>
<rect x="873.3" y="1204.49" width="30.10" height="19.98" fill="#ffee00"/>
<rect x="873.3" y="1224.07" width="30.10" height="19.98" fill="#eef600"/>
<rect x="873.3" y="1243.65" width="30.10" height="19.98" fill="#b5d600"/>
<rect x="873.3" y="1263.24" width="30.10" height="19.98" fill="#72b800"/>
<rect x="873.3" y="1282.82" width="30.10" height="19.98" fill="#33a010"/>
<text transform="translate(932.65,1090.47) scale(0.8075,1)" font-size="14.175" fill="#111" text-anchor="end" font-family='"Liberation Sans", Arial, sans-serif' stroke="#111" stroke-width="0.25">35.11</text>
<text transform="translate(932.90,1110.06) scale(0.8075,1)" font-size="14.175" fill="#111" text-anchor="end" font-family='"Liberation Sans", Arial, sans-serif' stroke="#111" stroke-width="0.25">33.35</text>
<text transform="translate(930.99,1129.64) scale(0.8075,1)" font-size="14.175" fill="#111" text-anchor="end" font-family='"Liberation Sans", Arial, sans-serif' stroke="#111" stroke-width="0.25">31.6</text>
<text transform="translate(932.90,1149.22) scale(0.8075,1)" font-size="14.175" fill="#111" text-anchor="end" font-family='"Liberation Sans", Arial, sans-serif' stroke="#111" stroke-width="0.25">29.84</text>
<text transform="translate(932.90,1168.80) scale(0.8075,1)" font-size="14.175" fill="#111" text-anchor="end" font-family='"Liberation Sans", Arial, sans-serif' stroke="#111" stroke-width="0.25">28.09</text>
<text transform="translate(932.90,1188.38) scale(0.8075,1)" font-size="14.175" fill="#111" text-anchor="end" font-family='"Liberation Sans", Arial, sans-serif' stroke="#111" stroke-width="0.25">26.33</text>
<text transform="translate(932.90,1207.97) scale(0.8075,1)" font-size="14.175" fill="#111" text-anchor="end" font-family='"Liberation Sans", Arial, sans-serif' stroke="#111" stroke-width="0.25">24.58</text>
<text transform="translate(932.90,1227.55) scale(0.8075,1)" font-size="14.175" fill="#111" text-anchor="end" font-family='"Liberation Sans", Arial, sans-serif' stroke="#111" stroke-width="0.25">22.82</text>
<text transform="translate(932.90,1247.13) scale(0.8075,1)" font-size="14.175" fill="#111" text-anchor="end" font-family='"Liberation Sans", Arial, sans-serif' stroke="#111" stroke-width="0.25">21.06</text>
<text transform="translate(932.90,1266.71) scale(0.8075,1)" font-size="14.175" fill="#111" text-anchor="end" font-family='"Liberation Sans", Arial, sans-serif' stroke="#111" stroke-width="0.25">19.31</text>
<text transform="translate(932.90,1286.29) scale(0.8075,1)" font-size="14.175" fill="#111" text-anchor="end" font-family='"Liberation Sans", Arial, sans-serif' stroke="#111" stroke-width="0.25">17.55</text>
<rect x="949.3" y="1087.00" width="30.30" height="20.02" fill="#078207"/>
<rect x="949.3" y="1106.62" width="30.30" height="20.02" fill="#2a8c40"/>
<rect x="949.3" y="1126.24" width="30.30" height="20.02" fill="#4aa47c"/>
<rect x="949.3" y="1145.87" width="30.30" height="20.02" fill="#6ab8b8"/>
<rect x="949.3" y="1165.49" width="30.30" height="20.02" fill="#7cc0ec"/>
<rect x="949.3" y="1185.11" width="30.30" height="20.02" fill="#5a8cf0"/>
<rect x="949.3" y="1204.73" width="30.30" height="20.02" fill="#3c5af8"/>
<rect x="949.3" y="1224.36" width="30.30" height="20.02" fill="#2020ff"/>
<rect x="949.3" y="1243.98" width="30.30" height="20.02" fill="#0000ff"/>
<text transform="translate(1006.79,1090.47) scale(0.8075,1)" font-size="14.175" fill="#111" text-anchor="end" font-family='"Liberation Sans", Arial, sans-serif' stroke="#111" stroke-width="0.25">15.8</text>
<text transform="translate(1008.70,1110.10) scale(0.8075,1)" font-size="14.175" fill="#111" text-anchor="end" font-family='"Liberation Sans", Arial, sans-serif' stroke="#111" stroke-width="0.25">14.04</text>
<text transform="translate(1008.70,1129.72) scale(0.8075,1)" font-size="14.175" fill="#111" text-anchor="end" font-family='"Liberation Sans", Arial, sans-serif' stroke="#111" stroke-width="0.25">12.29</text>
<text transform="translate(1008.70,1149.34) scale(0.8075,1)" font-size="14.175" fill="#111" text-anchor="end" font-family='"Liberation Sans", Arial, sans-serif' stroke="#111" stroke-width="0.25">10.53</text>
<text transform="translate(1006.79,1168.96) scale(0.8075,1)" font-size="14.175" fill="#111" text-anchor="end" font-family='"Liberation Sans", Arial, sans-serif' stroke="#111" stroke-width="0.25">8.78</text>
<text transform="translate(1006.79,1188.59) scale(0.8075,1)" font-size="14.175" fill="#111" text-anchor="end" font-family='"Liberation Sans", Arial, sans-serif' stroke="#111" stroke-width="0.25">7.02</text>
<text transform="translate(1006.79,1208.21) scale(0.8075,1)" font-size="14.175" fill="#111" text-anchor="end" font-family='"Liberation Sans", Arial, sans-serif' stroke="#111" stroke-width="0.25">5.27</text>
<text transform="translate(1006.79,1227.83) scale(0.8075,1)" font-size="14.175" fill="#111" text-anchor="end" font-family='"Liberation Sans", Arial, sans-serif' stroke="#111" stroke-width="0.25">3.51</text>
<text transform="translate(1006.79,1247.45) scale(0.8075,1)" font-size="14.175" fill="#111" text-anchor="end" font-family='"Liberation Sans", Arial, sans-serif' stroke="#111" stroke-width="0.25">1.76</text>
<text transform="translate(1002.02,1267.07) scale(0.8075,1)" font-size="14.175" fill="#111" text-anchor="end" font-family='"Liberation Sans", Arial, sans-serif' stroke="#111" stroke-width="0.25">0</text>
<text transform="translate(246,30.1) scale(1,1.07)" font-size="26.35" text-anchor="middle" font-family='"Liberation Serif", "Times New Roman", serif' fill="#000">Rat tail type-I</text>
<text transform="translate(246,63.8) scale(1,1.07)" font-size="26.35" text-anchor="middle" font-family='"Liberation Serif", "Times New Roman", serif' fill="#000">(<tspan font-weight="bold">a</tspan>) Oriented string</text>
<text transform="translate(776.5,30.1) scale(1,1.07)" font-size="26.35" text-anchor="middle" font-family='"Liberation Serif", "Times New Roman", serif' fill="#000">Porcine skin type-I</text>
<text transform="translate(776.5,63.6) scale(1,1.07)" font-size="26.35" text-anchor="middle" font-family='"Liberation Serif", "Times New Roman", serif' fill="#000">(<tspan font-weight="bold">e</tspan>) Oriented string</text>
<text transform="translate(246,373.7) scale(1,1.07)" font-size="26.35" text-anchor="middle" font-family='"Liberation Serif", "Times New Roman", serif' fill="#000">(<tspan font-weight="bold">b</tspan>) Single-layer oriented sheet (high density)</text>
<text transform="translate(777.1,373.7) scale(1,1.07)" font-size="26.35" text-anchor="middle" font-family='"Liberation Serif", "Times New Roman", serif' fill="#000">(<tspan font-weight="bold">f</tspan>) Single-layer oriented sheet (high density)</text>
<text transform="translate(245.6,694.8) scale(1,1.07)" font-size="26.35" text-anchor="middle" font-family='"Liberation Serif", "Times New Roman", serif' fill="#000">(<tspan font-weight="bold">c</tspan>) Single-layer oriented sheet</text>
<text transform="translate(777,694.8) scale(1,1.07)" font-size="26.35" text-anchor="middle" font-family='"Liberation Serif", "Times New Roman", serif' fill="#000">(<tspan font-weight="bold">g</tspan>) Single-layer oriented sheet</text>
<text transform="translate(246.2,1012.9) scale(1,1.07)" font-size="26.35" text-anchor="middle" font-family='"Liberation Serif", "Times New Roman", serif' fill="#000">(<tspan font-weight="bold">d</tspan>) Unoriented sheet</text>
<text transform="translate(777,1012.8) scale(1,1.07)" font-size="26.35" text-anchor="middle" font-family='"Liberation Serif", "Times New Roman", serif' fill="#000">(<tspan font-weight="bold">h</tspan>) Unoriented sheet</text>
</svg></body></html>
